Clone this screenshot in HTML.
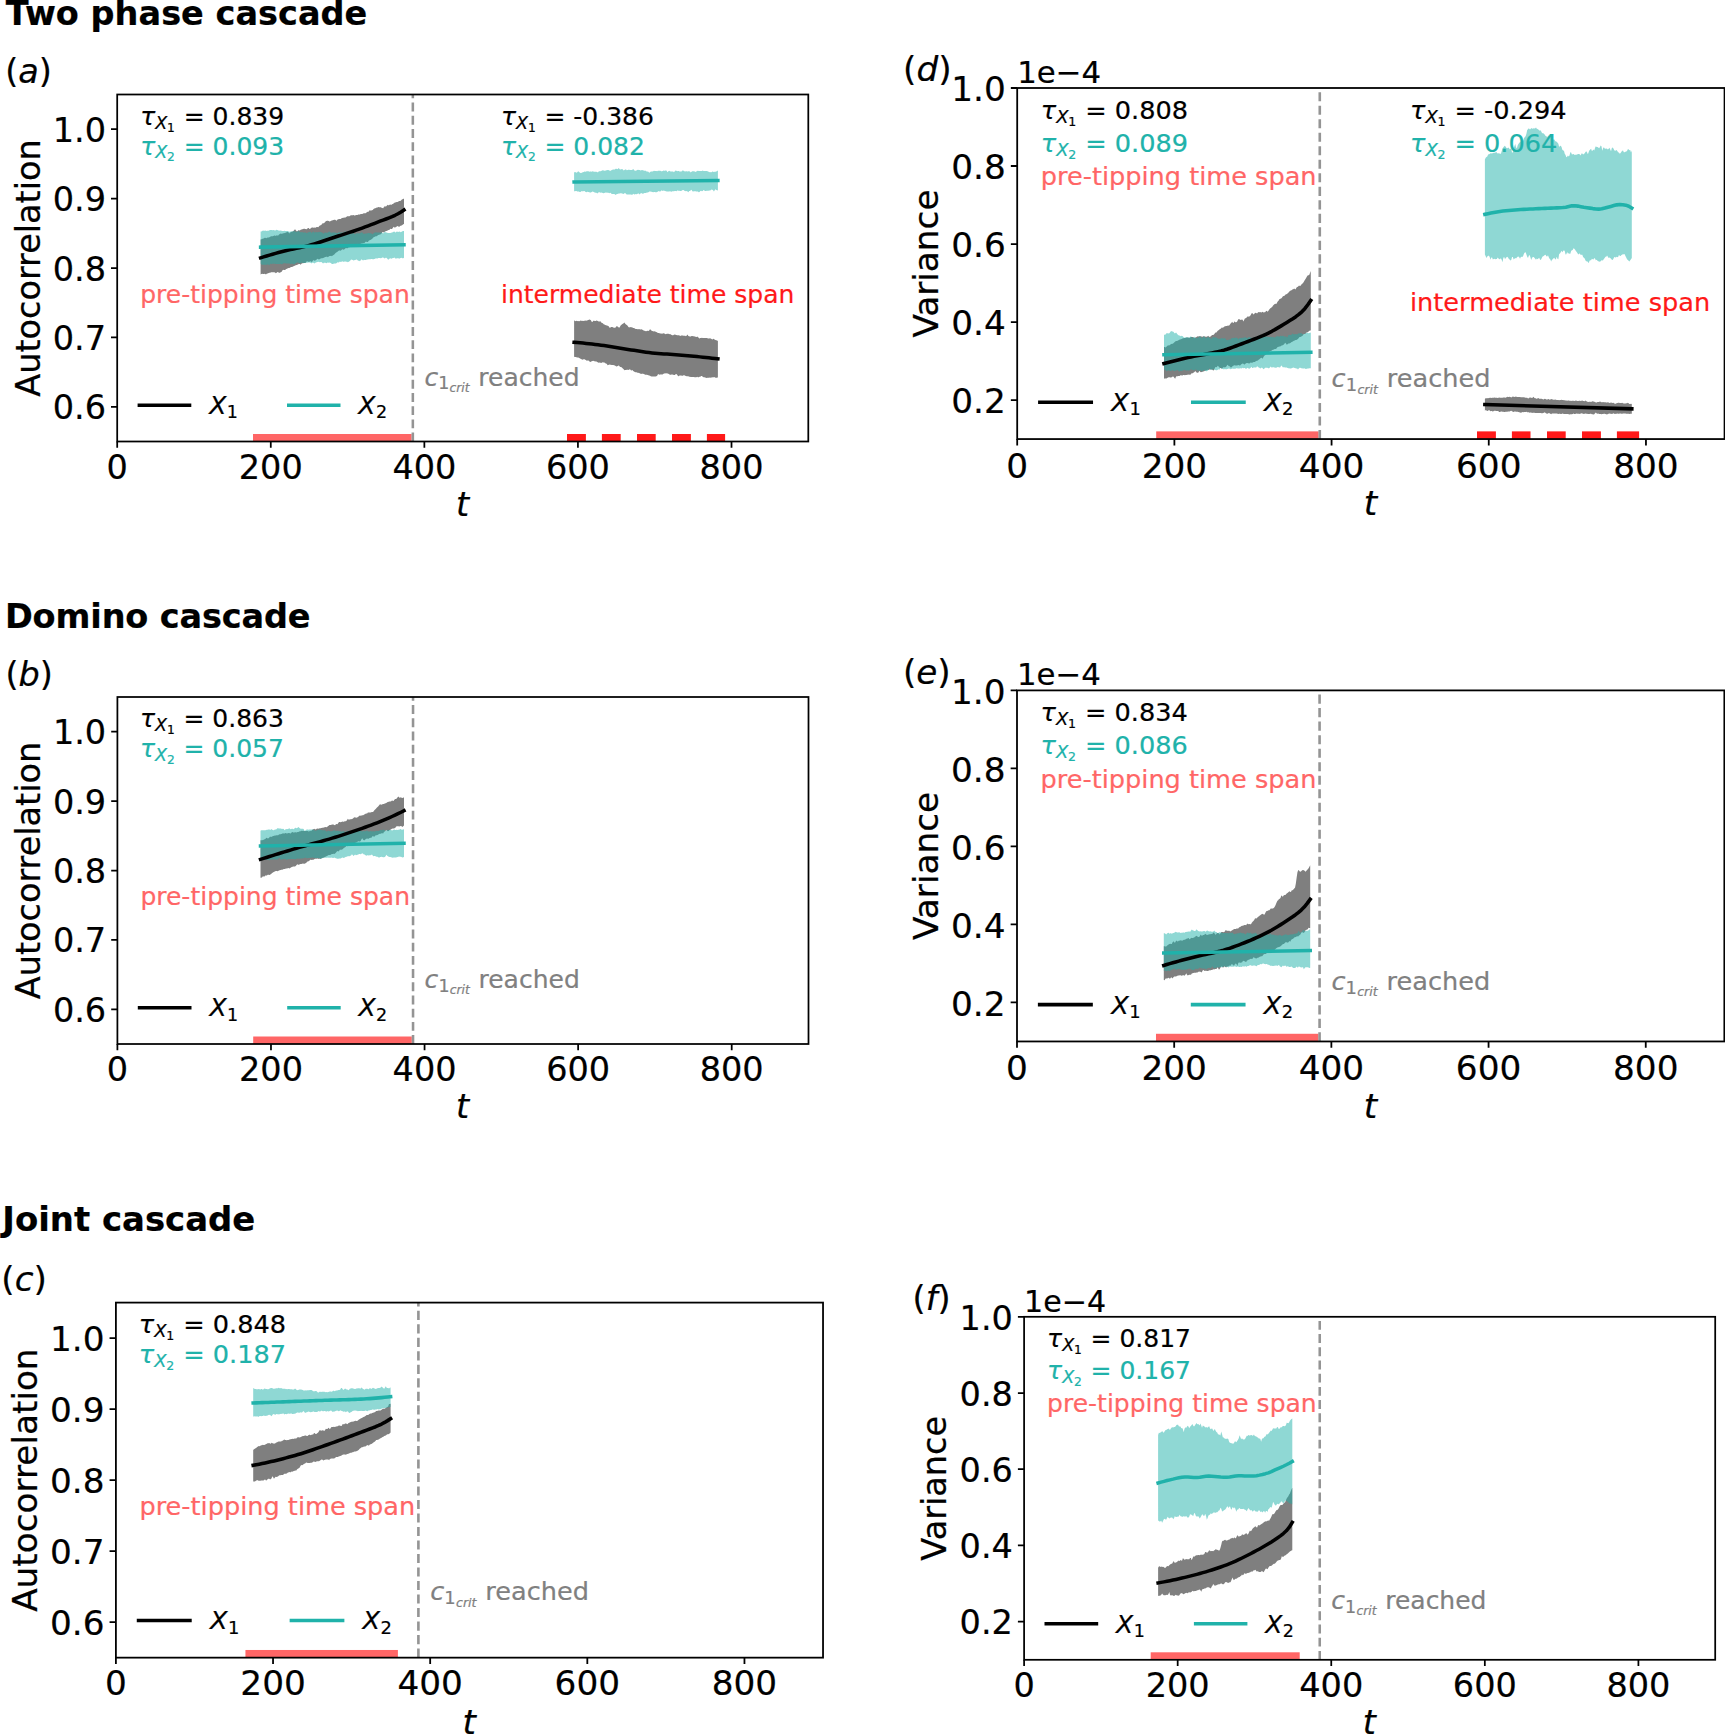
<!DOCTYPE html>
<html lang="en"><head><meta charset="utf-8"><title>Early warning signals for tipping cascades</title>
<style>html,body{margin:0;padding:0;background:#fff}svg{display:block}text{font-family:'DejaVu Sans','Liberation Sans',sans-serif;stroke-width:.22px;white-space:pre}</style></head><body>
<svg width="1725" height="1734" viewBox="0 0 1725 1734">
<rect width="1725" height="1734" fill="#fff"/>
<rect x="253" y="434" width="158.6" height="7.5" fill="#ff6666"/>
<rect x="567" y="434" width="18.9" height="7.5" fill="#ff1919"/>
<rect x="601.9" y="434" width="18.8" height="7.5" fill="#ff1919"/>
<rect x="637" y="434" width="18.7" height="7.5" fill="#ff1919"/>
<rect x="672" y="434" width="18.9" height="7.5" fill="#ff1919"/>
<rect x="706.9" y="434" width="18.2" height="7.5" fill="#ff1919"/>
<line x1="412.84" y1="441.5" x2="412.84" y2="94.5" stroke="#949494" stroke-width="2.55" stroke-dasharray="8.9 4.3"/>
<polygon points="260.6,239.4 261.4,239.27 262.2,238.88 263,238.51 263.8,238.38 264.61,237.68 265.41,237.85 266.21,238.26 267.01,237.7 267.81,237.4 268.61,237.39 269.41,237.17 270.21,236.83 271.01,236.2 271.82,236.22 272.62,236.27 273.42,236 274.22,235.48 275.02,235.61 275.82,235.96 276.62,235.31 277.42,235.62 278.22,235.6 279.03,234.46 279.83,234.1 280.63,233.44 281.43,233.78 282.23,233.87 283.03,233.25 283.83,233.3 284.63,232.98 285.43,232.67 286.24,232.38 287.04,231.72 287.84,232 288.64,232.42 289.44,233.43 290.24,232.4 291.04,231.88 291.84,231.7 292.64,231.39 293.45,231.07 294.25,230.07 295.05,229.32 295.85,230.17 296.65,231.28 297.45,231.13 298.25,230.16 299.05,230.36 299.85,230.48 300.66,229.67 301.46,229.47 302.26,229.28 303.06,229.11 303.86,228.63 304.66,228.85 305.46,229.01 306.26,229.13 307.06,228.98 307.87,228.04 308.67,228.05 309.47,228.94 310.27,228.73 311.07,228.04 311.87,227.61 312.67,227.42 313.47,227.64 314.27,227.42 315.08,227.66 315.88,227.61 316.68,226.95 317.48,227 318.28,227.27 319.08,226.17 319.88,225.51 320.68,225.31 321.48,224.68 322.29,223.5 323.09,223.25 323.89,223.29 324.69,222.58 325.49,221.61 326.29,221.03 327.09,220.87 327.89,220.66 328.69,220.91 329.5,221.58 330.3,221.18 331.1,220.69 331.9,220.61 332.7,220.35 333.5,220.1 334.3,219.81 335.1,219.67 335.91,220.36 336.71,220.73 337.51,219.59 338.31,219.25 339.11,218.93 339.91,218.97 340.71,218.92 341.51,218.26 342.31,217.96 343.12,217.8 343.92,217.64 344.72,217.62 345.52,217.5 346.32,217.04 347.12,216.36 347.92,216.22 348.72,216.32 349.52,216.21 350.33,215.46 351.13,215.19 351.93,215.36 352.73,215.26 353.53,215.08 354.33,215.53 355.13,215.58 355.93,214.88 356.73,214.98 357.54,214.94 358.34,214.59 359.14,214.47 359.94,214.4 360.74,214.05 361.54,214.04 362.34,213.89 363.14,213.47 363.94,213.22 364.75,213.15 365.55,213.16 366.35,212.85 367.15,211.77 367.95,211.93 368.75,211.6 369.55,210.16 370.35,210.53 371.15,210.52 371.96,210.2 372.76,209.89 373.56,209.1 374.36,208.39 375.16,208.23 375.96,208.12 376.76,207.62 377.56,207.44 378.36,207.08 379.17,207.19 379.97,207.17 380.77,207.16 381.57,207.81 382.37,208.1 383.17,208.3 383.97,206.96 384.77,206.33 385.57,206.54 386.38,206.19 387.18,205.17 387.98,204.85 388.78,205.48 389.58,204.76 390.38,204.44 391.18,204.89 391.98,204.29 392.78,203.95 393.59,203.55 394.39,202.7 395.19,202.4 395.99,202.31 396.79,202.04 397.59,201.89 398.39,201.46 399.19,200.98 399.99,201.11 400.8,200.81 401.6,199.78 402.4,199.31 403.2,198.94 404,198.4 404,224 403.2,224.37 402.4,225.11 401.6,225.48 400.8,225.78 399.99,225.99 399.19,227.01 398.39,226.46 397.59,226.07 396.79,226.57 395.99,227.03 395.19,227.59 394.39,227.4 393.59,226.78 392.78,227.94 391.98,228.94 391.18,228.97 390.38,228.84 389.58,229.64 388.78,229.93 387.98,230.34 387.18,230.7 386.38,230.93 385.57,231.36 384.77,231.67 383.97,232.13 383.17,232.23 382.37,231.9 381.57,233.59 380.77,234.29 379.97,234.43 379.17,234.72 378.36,234.92 377.56,235.38 376.76,236.3 375.96,236.37 375.16,236.58 374.36,237.04 373.56,237.14 372.76,238.25 371.96,239.04 371.15,239.49 370.35,239.88 369.55,240.23 368.75,240.83 367.95,242.08 367.15,242 366.35,241.78 365.55,241.85 364.75,242.87 363.94,243.18 363.14,243.11 362.34,243.54 361.54,243.45 360.74,243.74 359.94,244.43 359.14,245.27 358.34,245.12 357.54,244.19 356.73,244.43 355.93,244.86 355.13,245.87 354.33,246.59 353.53,246.82 352.73,246.36 351.93,246.6 351.13,246.88 350.33,246.83 349.52,247.28 348.72,247.13 347.92,247.65 347.12,248.43 346.32,248 345.52,248.16 344.72,249.07 343.92,249.73 343.12,249.38 342.31,249.2 341.51,250.06 340.71,250.7 339.91,250.44 339.11,250.6 338.31,251.04 337.51,251.64 336.71,252.24 335.91,252.76 335.1,253.46 334.3,254.4 333.5,255.04 332.7,255.56 331.9,256.21 331.1,255.84 330.3,255.95 329.5,256.08 328.69,256.41 327.89,257.19 327.09,256.74 326.29,256.76 325.49,257.11 324.69,257.35 323.89,257.81 323.09,258 322.29,258.2 321.48,258.29 320.68,258.47 319.88,259.05 319.08,259.51 318.28,259.26 317.48,258.85 316.68,259.43 315.88,260.18 315.08,260.59 314.27,260.83 313.47,259.89 312.67,261.03 311.87,262.24 311.07,261.55 310.27,261.37 309.47,261.68 308.67,261.73 307.87,261.68 307.06,260.93 306.26,261.92 305.46,262.97 304.66,263.06 303.86,263.02 303.06,263.14 302.26,263.26 301.46,263.79 300.66,264.71 299.85,263.89 299.05,263.93 298.25,264.35 297.45,264.76 296.65,265.12 295.85,265.17 295.05,265.5 294.25,266.09 293.45,266.25 292.64,266.67 291.84,266.89 291.04,267.01 290.24,267.42 289.44,267.94 288.64,268.1 287.84,268.36 287.04,268.87 286.24,269.07 285.43,269.87 284.63,270.04 283.83,270.02 283.03,269.7 282.23,270.73 281.43,271.89 280.63,272.17 279.83,272.63 279.03,272.84 278.22,272.36 277.42,272.05 276.62,272.78 275.82,273.27 275.02,272.45 274.22,272.23 273.42,272.14 272.62,272.29 271.82,272.3 271.01,272.17 270.21,272.87 269.41,272.79 268.61,273.07 267.81,273.43 267.01,273.58 266.21,274.32 265.41,274.15 264.61,273.78 263.8,274.09 263,273.96 262.2,273.69 261.4,274.12 260.6,274.5" fill="#000" fill-opacity="0.5"/>
<polygon points="260.6,231.58 261.4,231.59 262.2,231.08 263,230.5 263.8,230.72 264.61,230.83 265.41,230.56 266.21,230.89 267.01,230.85 267.81,230.85 268.61,230.77 269.41,230.24 270.21,229.94 271.01,229.9 271.82,230.09 272.62,230.23 273.42,230.11 274.22,230.26 275.02,230.43 275.82,230.21 276.62,229.68 277.42,230.08 278.22,230.53 279.03,230.57 279.83,230.63 280.63,230.5 281.43,230.68 282.23,230.98 283.03,231 283.83,230.96 284.63,230.87 285.43,230.94 286.24,231.04 287.04,230.9 287.84,231.06 288.64,231.58 289.44,231.73 290.24,231.54 291.04,231.46 291.84,231.22 292.64,231.53 293.45,231.24 294.25,230.73 295.05,231.46 295.85,231.68 296.65,231.81 297.45,231.5 298.25,231.01 299.05,231.24 299.85,231.97 300.66,232.23 301.46,232.33 302.26,232.27 303.06,232.36 303.86,232.76 304.66,232.62 305.46,232.37 306.26,233 307.06,233.13 307.87,232.34 308.67,232.24 309.47,232.1 310.27,231.87 311.07,232.34 311.87,233.25 312.67,231.87 313.47,231.62 314.27,232.75 315.08,232.18 315.88,231.81 316.68,232.38 317.48,232.16 318.28,232.03 319.08,232.2 319.88,231.67 320.68,231.95 321.48,232.46 322.29,232.61 323.09,233.6 323.89,233.46 324.69,232.51 325.49,232.49 326.29,232.63 327.09,232.86 327.89,232.57 328.69,231.78 329.5,231.48 330.3,232.36 331.1,232.85 331.9,232.66 332.7,232.45 333.5,232.49 334.3,232.45 335.1,232.56 335.91,232.69 336.71,233 337.51,233.24 338.31,232.61 339.11,232.22 339.91,232.57 340.71,232.81 341.51,232.39 342.31,232.39 343.12,232.89 343.92,232.2 344.72,231.62 345.52,231.44 346.32,232.08 347.12,232.52 347.92,232.43 348.72,232.44 349.52,232.95 350.33,233.19 351.13,233.14 351.93,233.51 352.73,233.49 353.53,232.78 354.33,233.9 355.13,234.3 355.93,233.39 356.73,233.21 357.54,233.23 358.34,233.37 359.14,233.52 359.94,233.3 360.74,232.93 361.54,232.36 362.34,232.6 363.14,233.49 363.94,234 364.75,233.44 365.55,233.49 366.35,233.51 367.15,233.41 367.95,233.12 368.75,232.95 369.55,233.28 370.35,233.23 371.15,233.28 371.96,234.05 372.76,234.3 373.56,233.23 374.36,232.7 375.16,232.48 375.96,232.27 376.76,232.4 377.56,232.57 378.36,232.54 379.17,232.48 379.97,232.5 380.77,232.52 381.57,232.4 382.37,232.81 383.17,233.6 383.97,232.61 384.77,232.05 385.57,232.14 386.38,232.39 387.18,232.74 387.98,233.12 388.78,233 389.58,233.01 390.38,233.01 391.18,232.82 391.98,232.53 392.78,232.26 393.59,231.63 394.39,231.57 395.19,232.51 395.99,232.26 396.79,231.6 397.59,231.85 398.39,231.97 399.19,231.6 399.99,231.81 400.8,232.15 401.6,231.68 402.4,231.19 403.2,231.02 404,231.08 404,257.63 403.2,258.3 402.4,258.17 401.6,257.76 400.8,257.98 399.99,258.36 399.19,258.78 398.39,258.36 397.59,258.19 396.79,258.27 395.99,258.64 395.19,258.2 394.39,257.59 393.59,257.96 392.78,258.05 391.98,258.49 391.18,258.72 390.38,258.2 389.58,258.51 388.78,259.42 387.98,259.44 387.18,258.53 386.38,257.66 385.57,257.7 384.77,258.41 383.97,258.11 383.17,257.54 382.37,257.58 381.57,257.92 380.77,258.34 379.97,258.05 379.17,258.06 378.36,258 377.56,258.4 376.76,258.57 375.96,258.35 375.16,258.71 374.36,259.01 373.56,259.28 372.76,259.16 371.96,259.03 371.15,258.91 370.35,259.14 369.55,259.33 368.75,259.33 367.95,259.46 367.15,259.42 366.35,259.7 365.55,260.06 364.75,259.94 363.94,259.66 363.14,260.54 362.34,260.12 361.54,259.14 360.74,260.17 359.94,261.18 359.14,260.74 358.34,260.74 357.54,260.36 356.73,259.35 355.93,259.92 355.13,259.72 354.33,260.18 353.53,260.46 352.73,260.11 351.93,259.81 351.13,259.59 350.33,260.62 349.52,261.26 348.72,261.64 347.92,262.13 347.12,261.83 346.32,261.86 345.52,261.54 344.72,261.55 343.92,261.84 343.12,261.66 342.31,261.16 341.51,261.65 340.71,262.03 339.91,261.51 339.11,262.14 338.31,262.59 337.51,262.21 336.71,262.94 335.91,263.59 335.1,263.39 334.3,263.48 333.5,263.64 332.7,264.01 331.9,264.12 331.1,263.14 330.3,262.69 329.5,262.62 328.69,262.86 327.89,262.62 327.09,262.63 326.29,263.13 325.49,262.87 324.69,262.74 323.89,262.8 323.09,263.55 322.29,262.78 321.48,262.05 320.68,261.9 319.88,262.21 319.08,262.07 318.28,261.77 317.48,262.06 316.68,262.24 315.88,262.62 315.08,263.1 314.27,263.4 313.47,262.7 312.67,262.53 311.87,263.34 311.07,263.14 310.27,262.44 309.47,262.5 308.67,262.5 307.87,262.46 307.06,262.83 306.26,262.87 305.46,262.85 304.66,262.91 303.86,262.94 303.06,262.96 302.26,262.71 301.46,262.4 300.66,262.9 299.85,263.18 299.05,262.91 298.25,262.67 297.45,262.17 296.65,262.78 295.85,263.21 295.05,263.55 294.25,264.4 293.45,264.07 292.64,263.79 291.84,263.66 291.04,263.79 290.24,264.07 289.44,263.62 288.64,263.49 287.84,263.5 287.04,263.45 286.24,263.43 285.43,263.31 284.63,263.33 283.83,263.3 283.03,263.44 282.23,264.32 281.43,264.29 280.63,263.78 279.83,263.96 279.03,263.9 278.22,264.03 277.42,264.08 276.62,264.01 275.82,264.09 275.02,263.76 274.22,263.86 273.42,263.7 272.62,263.5 271.82,264.22 271.01,263.7 270.21,263.68 269.41,265.23 268.61,265.09 267.81,264.36 267.01,264.46 266.21,265.28 265.41,264.61 264.61,264.66 263.8,264.76 263,264.69 262.2,264.84 261.4,264.46 260.6,263.53" fill="#20b2aa" fill-opacity="0.5"/>
<polyline points="260.6,257.9 263.59,256.93 266.58,255.99 269.56,255.09 272.55,254.22 275.54,253.37 278.53,252.56 281.51,251.77 284.5,251.02 287.49,250.29 290.48,249.6 293.46,248.98 296.45,248.4 299.44,247.8 302.43,247.14 305.41,246.4 308.4,245.59 311.39,244.74 314.38,243.85 317.36,242.94 320.35,242.01 323.34,241.03 326.32,240.01 329.31,238.98 332.3,237.97 335.29,236.99 338.27,236.03 341.26,235.08 344.25,234.13 347.24,233.18 350.23,232.21 353.21,231.22 356.2,230.2 359.19,229.14 362.18,228.05 365.16,226.95 368.15,225.82 371.14,224.68 374.12,223.53 377.11,222.37 380.1,221.21 383.09,220.1 386.07,218.99 389.06,217.85 392.05,216.64 395.04,215.31 398.02,213.79 401.01,211.98 404,210" fill="none" stroke="#000" stroke-width="3.5" stroke-linecap="square" stroke-linejoin="round"/>
<polyline points="260.6,247.1 404,244.8" fill="none" stroke="#20b2aa" stroke-width="3.5" stroke-linecap="square" stroke-linejoin="round"/>
<polygon points="574.1,320.44 574.9,320.81 575.7,321.33 576.5,320.8 577.3,321.04 578.09,321.35 578.89,321.11 579.69,321.24 580.49,320.61 581.29,320.7 582.09,320.99 582.89,320.73 583.69,320.91 584.49,320.65 585.28,320.51 586.08,320.64 586.88,320.47 587.68,320.36 588.48,320.08 589.28,319.5 590.08,319.7 590.88,320.24 591.68,321.83 592.47,321.9 593.27,320.69 594.07,320.72 594.87,320.88 595.67,321.04 596.47,320.54 597.27,320.63 598.07,321.17 598.87,321.51 599.66,321.62 600.46,321.2 601.26,322.6 602.06,322.98 602.86,323.35 603.66,324.16 604.46,324.57 605.26,324.97 606.06,325.28 606.85,325.6 607.65,325.8 608.45,326.04 609.25,327.15 610.05,327.89 610.85,327.11 611.65,327.08 612.45,327.12 613.25,327.41 614.04,327.69 614.84,327.71 615.64,327.49 616.44,326.36 617.24,326.31 618.04,326.91 618.84,327.55 619.64,327.42 620.44,325.83 621.23,324.92 622.03,324.3 622.83,323.74 623.63,323.19 624.43,322.49 625.23,323.63 626.03,324.57 626.83,325.11 627.63,325.75 628.42,326.98 629.22,327.4 630.02,326.99 630.82,327.25 631.62,327.35 632.42,327.62 633.22,328.05 634.02,327.99 634.82,328.44 635.61,329.11 636.41,329.02 637.21,329.03 638.01,329.4 638.81,329.12 639.61,329.37 640.41,329.58 641.21,329.2 642.01,329.45 642.8,329.95 643.6,330.47 644.4,330.68 645.2,330.97 646,331.36 646.8,330.99 647.6,330.72 648.4,330.88 649.2,330.45 649.99,329.33 650.79,329.84 651.59,330.78 652.39,331.1 653.19,331.27 653.99,331.59 654.79,331.36 655.59,331.66 656.39,332.07 657.18,332.61 657.98,333.02 658.78,333 659.58,333.16 660.38,333.4 661.18,333.52 661.98,333.65 662.78,333.61 663.58,333.21 664.37,333.46 665.17,333.95 665.97,334.16 666.77,333.69 667.57,333.74 668.37,333.87 669.17,334.03 669.97,334.2 670.77,334.33 671.56,335.02 672.36,335.35 673.16,335.21 673.96,334.8 674.76,334.47 675.56,334.75 676.36,335.04 677.16,335.13 677.96,335.29 678.75,335.29 679.55,335.42 680.35,335.95 681.15,335.43 681.95,335.44 682.75,335.6 683.55,335.75 684.35,335.79 685.15,335.85 685.94,336.14 686.74,335.61 687.54,334.6 688.34,335.9 689.14,336.29 689.94,336.4 690.74,336.46 691.54,336.02 692.34,336.03 693.13,336.16 693.93,336.15 694.73,336.41 695.53,336.8 696.33,336.98 697.13,336.86 697.93,336.85 698.73,338.12 699.53,338.52 700.32,338 701.12,337.91 701.92,337.87 702.72,337.94 703.52,338.01 704.32,338.05 705.12,337.98 705.92,337.94 706.72,337.96 707.51,338.36 708.31,338.5 709.11,338.43 709.91,338.13 710.71,338.4 711.51,339 712.31,339.38 713.11,338.97 713.91,338.74 714.7,339.72 715.5,340.01 716.3,340.26 717.1,340.61 717.9,341.12 717.9,377.35 717.1,377.72 716.3,377.66 715.5,377.64 714.7,377.29 713.91,377.1 713.11,377.53 712.31,377.32 711.51,377.62 710.71,377.73 709.91,377.51 709.11,377.69 708.31,377.68 707.51,377.8 706.72,378.03 705.92,377.87 705.12,377.48 704.32,377.28 703.52,377.13 702.72,376.82 701.92,375.97 701.12,375.89 700.32,376.63 699.53,376.7 698.73,377.33 697.93,377.22 697.13,376.79 696.33,377.23 695.53,377.35 694.73,377.14 693.93,377.1 693.13,377.02 692.34,376.9 691.54,377.07 690.74,377.08 689.94,376.69 689.14,376.68 688.34,376.3 687.54,376.13 686.74,376.29 685.94,376.05 685.15,375.81 684.35,375.33 683.55,375.33 682.75,375.67 681.95,375.65 681.15,375.62 680.35,375.44 679.55,375.4 678.75,376.24 677.96,376 677.16,374.84 676.36,374.09 675.56,374.31 674.76,375 673.96,375.1 673.16,374.87 672.36,374.42 671.56,374.44 670.77,374.81 669.97,374.7 669.17,374.35 668.37,373.67 667.57,373.42 666.77,373.36 665.97,373.41 665.17,373.26 664.37,373.46 663.58,373.66 662.78,374.37 661.98,374.83 661.18,374.37 660.38,374.42 659.58,374.69 658.78,374.18 657.98,374.37 657.18,375.73 656.39,376.17 655.59,376.4 654.79,376.55 653.99,376.41 653.19,376.46 652.39,376.42 651.59,376.55 650.79,376.18 649.99,375.63 649.2,375.6 648.4,375.28 647.6,375.06 646.8,374.73 646,374.78 645.2,374.72 644.4,374.26 643.6,373.92 642.8,373.41 642.01,373.88 641.21,373.79 640.41,373.72 639.61,373.28 638.81,372.8 638.01,372.98 637.21,372.62 636.41,372.26 635.61,372.16 634.82,371.9 634.02,371.54 633.22,370.93 632.42,370 631.62,370.51 630.82,370.24 630.02,369.23 629.22,369.6 628.42,369.93 627.63,369.72 626.83,369.74 626.03,369.92 625.23,370.1 624.43,370.18 623.63,369.14 622.83,368.48 622.03,367.8 621.23,366.9 620.44,366.95 619.64,366.41 618.84,365.58 618.04,365.81 617.24,366.16 616.44,366.48 615.64,366.04 614.84,365.44 614.04,365.26 613.25,365.12 612.45,365.03 611.65,365.02 610.85,364.83 610.05,364.64 609.25,364.57 608.45,364.96 607.65,365.13 606.85,364.05 606.06,363.55 605.26,363.17 604.46,362.49 603.66,362.54 602.86,362.3 602.06,362.57 601.26,363.05 600.46,362.68 599.66,362.59 598.87,362.67 598.07,362.46 597.27,361.98 596.47,361.55 595.67,361.57 594.87,361.3 594.07,361.19 593.27,360.86 592.47,361 591.68,361.27 590.88,361.8 590.08,362.07 589.28,361.27 588.48,360.59 587.68,360.45 586.88,360.78 586.08,360.15 585.28,359.69 584.49,359.25 583.69,359.24 582.89,359.4 582.09,359.63 581.29,358.94 580.49,358.63 579.69,358.31 578.89,357.86 578.09,357.54 577.3,357.5 576.5,357.25 575.7,357.08 574.9,357.08 574.1,356.85" fill="#000" fill-opacity="0.5"/>
<polygon points="574.1,172.42 574.9,172 575.7,172.37 576.5,172.85 577.3,172.23 578.09,171.29 578.89,171.86 579.69,172.6 580.49,172.96 581.29,173.12 582.09,172.5 582.89,172.24 583.69,171.89 584.49,171.55 585.28,171.87 586.08,171.47 586.88,171.16 587.68,171.16 588.48,171.19 589.28,171.67 590.08,171.41 590.88,171.53 591.68,171.66 592.47,171.32 593.27,171.61 594.07,171.83 594.87,171.86 595.67,171.82 596.47,171.79 597.27,172.25 598.07,172.29 598.87,171.32 599.66,171.23 600.46,171.32 601.26,171.03 602.06,170.6 602.86,170.28 603.66,170.57 604.46,170.77 605.26,170.74 606.06,170.33 606.85,170.21 607.65,170.04 608.45,169.97 609.25,170.47 610.05,170.85 610.85,170.79 611.65,170.11 612.45,169.75 613.25,169.51 614.04,169.45 614.84,169.39 615.64,168.86 616.44,168.84 617.24,169.28 618.04,168.85 618.84,168.08 619.64,169.3 620.44,169.59 621.23,169.34 622.03,169 622.83,169.44 623.63,170.41 624.43,170.09 625.23,169.6 626.03,169.62 626.83,170.21 627.63,169.91 628.42,169.7 629.22,169.71 630.02,169.88 630.82,170 631.62,169.94 632.42,169.63 633.22,169.04 634.02,169.93 634.82,170.82 635.61,170.73 636.41,170.61 637.21,170.04 638.01,169.77 638.81,169.94 639.61,170.03 640.41,170.53 641.21,170.3 642.01,169.88 642.8,170.31 643.6,170.41 644.4,170.74 645.2,170.65 646,170.86 646.8,171.73 647.6,171.51 648.4,171.76 649.2,172.82 649.99,172.18 650.79,171.49 651.59,171.5 652.39,171.39 653.19,171.15 653.99,170.87 654.79,171.03 655.59,170.99 656.39,170.99 657.18,171.35 657.98,170.86 658.78,170.76 659.58,170.87 660.38,170.85 661.18,171.18 661.98,171.3 662.78,171.07 663.58,170.61 664.37,170.66 665.17,170.72 665.97,170.34 666.77,171.06 667.57,172.13 668.37,171.34 669.17,170.81 669.97,171.23 670.77,171.5 671.56,171.58 672.36,171.42 673.16,171.46 673.96,172.27 674.76,171.23 675.56,170.56 676.36,170.81 677.16,171.15 677.96,171.02 678.75,170.97 679.55,171.5 680.35,171.43 681.15,171.6 681.95,171.34 682.75,170.37 683.55,170.83 684.35,171.34 685.15,171.43 685.94,171.18 686.74,171.37 687.54,171.41 688.34,171.23 689.14,171.28 689.94,171.42 690.74,172.5 691.54,171.78 692.34,171.16 693.13,171.27 693.93,171.21 694.73,171.56 695.53,171.92 696.33,171.46 697.13,171.02 697.93,170.72 698.73,170.9 699.53,170.99 700.32,170.89 701.12,171.02 701.92,170.94 702.72,170.52 703.52,170.95 704.32,171.07 705.12,171.05 705.92,170.95 706.72,171.05 707.51,171.2 708.31,171.5 709.11,172.2 709.91,171.92 710.71,172.25 711.51,172.18 712.31,171.51 713.11,171.71 713.91,172.03 714.7,171.85 715.5,171.7 716.3,171.55 717.1,171.12 717.9,170.44 717.9,190.41 717.1,190.32 716.3,189.94 715.5,189.25 714.7,190.24 713.91,191.53 713.11,190.29 712.31,189.71 711.51,189.52 710.71,190.33 709.91,190.48 709.11,190.61 708.31,190.79 707.51,190.72 706.72,190.72 705.92,190.9 705.12,190.88 704.32,190.42 703.52,190.09 702.72,190.96 701.92,191.29 701.12,190.87 700.32,191.06 699.53,192.11 698.73,192.24 697.93,191.6 697.13,191.45 696.33,191.61 695.53,191.37 694.73,191.16 693.93,191.27 693.13,191.38 692.34,191.32 691.54,189.73 690.74,190.22 689.94,191.04 689.14,191.1 688.34,192.16 687.54,191.61 686.74,191.05 685.94,191.13 685.15,190.94 684.35,190.78 683.55,189.9 682.75,190.01 681.95,190.6 681.15,191.03 680.35,191.01 679.55,190.83 678.75,190.93 677.96,190.26 677.16,190.73 676.36,191.23 675.56,191.03 674.76,190.95 673.96,191.32 673.16,191.26 672.36,191.36 671.56,191.82 670.77,191.58 669.97,191.29 669.17,191.54 668.37,191.46 667.57,191.41 666.77,191.51 665.97,191.19 665.17,191.1 664.37,190.82 663.58,190.56 662.78,190.88 661.98,190.43 661.18,190.59 660.38,191.53 659.58,191.58 658.78,190.92 657.98,191.51 657.18,191.88 656.39,192.14 655.59,192.28 654.79,192.01 653.99,192.12 653.19,192.28 652.39,192.11 651.59,191.85 650.79,191.78 649.99,191.36 649.2,191.86 648.4,192.25 647.6,192.39 646.8,192.53 646,192.95 645.2,193.09 644.4,192.92 643.6,193.44 642.8,193.8 642.01,193.55 641.21,193.01 640.41,193.57 639.61,194.38 638.81,193.62 638.01,193.61 637.21,193.91 636.41,194.18 635.61,194.12 634.82,194.46 634.02,194.16 633.22,193.86 632.42,194.67 631.62,194.69 630.82,194.44 630.02,194.56 629.22,194.51 628.42,194.41 627.63,194.53 626.83,194.39 626.03,193.95 625.23,193.01 624.43,193.13 623.63,193.93 622.83,193.8 622.03,193.61 621.23,193.34 620.44,193.29 619.64,193.58 618.84,193.38 618.04,193.66 617.24,194 616.44,194.14 615.64,194.89 614.84,194.29 614.04,194.02 613.25,193.93 612.45,193.94 611.65,194.11 610.85,192.91 610.05,192.87 609.25,193.16 608.45,192.85 607.65,192.66 606.85,192.61 606.06,192.63 605.26,192.62 604.46,193.04 603.66,193.22 602.86,193.05 602.06,192.74 601.26,192.56 600.46,192.63 599.66,192.26 598.87,192.15 598.07,192.71 597.27,193.44 596.47,192.83 595.67,192.69 594.87,192.56 594.07,192.14 593.27,191.66 592.47,191.56 591.68,192.05 590.88,192.5 590.08,192.57 589.28,192.24 588.48,192.04 587.68,191.73 586.88,192.02 586.08,192.26 585.28,191.77 584.49,190.88 583.69,190.88 582.89,191.42 582.09,190.97 581.29,191.31 580.49,192.02 579.69,191.99 578.89,191.52 578.09,191.56 577.3,191.42 576.5,191.1 575.7,190.96 574.9,191.2 574.1,191.27" fill="#20b2aa" fill-opacity="0.5"/>
<polyline points="574.1,342.3 577.1,342.55 580.09,342.82 583.09,343.1 586.08,343.4 589.08,343.72 592.08,344.05 595.07,344.4 598.07,344.76 601.06,345.14 604.06,345.54 607.05,345.99 610.05,346.46 613.05,346.95 616.04,347.45 619.04,347.96 622.03,348.47 625.03,348.97 628.02,349.45 631.02,349.9 634.02,350.35 637.01,350.81 640.01,351.27 643,351.72 646,352.15 649,352.54 651.99,352.89 654.99,353.19 657.98,353.45 660.98,353.68 663.98,353.89 666.97,354.09 669.97,354.28 672.96,354.48 675.96,354.68 678.95,354.91 681.95,355.17 684.95,355.43 687.94,355.7 690.94,355.98 693.93,356.27 696.93,356.57 699.92,356.88 702.92,357.2 705.92,357.52 708.91,357.85 711.91,358.19 714.9,358.54 717.9,358.9" fill="none" stroke="#000" stroke-width="3.5" stroke-linecap="square" stroke-linejoin="round"/>
<polyline points="574.1,182.1 717.9,180.4" fill="none" stroke="#20b2aa" stroke-width="3.5" stroke-linecap="square" stroke-linejoin="round"/>
<rect x="117.2" y="94.5" width="691.1" height="347" fill="none" stroke="#000" stroke-width="1.75"/>
<path d="M117.2 441.5v6.2M270.78 441.5v6.2M424.36 441.5v6.2M577.93 441.5v6.2M731.51 441.5v6.2M117.2 406.8h-6.2M117.2 337.4h-6.2M117.2 268h-6.2M117.2 198.6h-6.2M117.2 129.2h-6.2" stroke="#000" stroke-width="1.75" fill="none"/>
<g font-size="33.5" stroke="#000">
<text x="117.2" y="478.5" text-anchor="middle">0</text>
<text x="270.78" y="478.5" text-anchor="middle">200</text>
<text x="424.36" y="478.5" text-anchor="middle">400</text>
<text x="577.93" y="478.5" text-anchor="middle">600</text>
<text x="731.51" y="478.5" text-anchor="middle">800</text>
<text x="106" y="419.3" text-anchor="end">0.6</text>
<text x="106" y="349.9" text-anchor="end">0.7</text>
<text x="106" y="280.5" text-anchor="end">0.8</text>
<text x="106" y="211.1" text-anchor="end">0.9</text>
<text x="106" y="141.7" text-anchor="end">1.0</text>
</g>
<text x="462.45" y="515.8" font-size="33.5" text-anchor="middle" font-style="italic" stroke="#000">t</text>
<text x="40" y="268" font-size="33.5" text-anchor="middle" transform="rotate(-90 40 268)" stroke="#000">Autocorrelation</text>
<text x="5.2" y="83.1" font-size="33.5" stroke="#000">(<tspan font-style="italic">a</tspan>)</text>
<text x="5.7" y="25" font-size="33.5" font-weight="bold" stroke="#000" textLength="361.6">Two phase cascade</text>
<text stroke="#000"><tspan x="140.2" y="124.7" font-size="25" font-style="italic">τ</tspan><tspan x="155.25" y="128.6" font-size="17.5" font-style="italic">X</tspan><tspan x="167.1" y="131.5" font-size="12.25">1</tspan><tspan x="175.7" y="124.7" font-size="25"> = 0.839</tspan></text>
<text fill="#20b2aa" stroke="#20b2aa"><tspan x="140.2" y="154.5" font-size="25" font-style="italic">τ</tspan><tspan x="155.25" y="158.4" font-size="17.5" font-style="italic">X</tspan><tspan x="167.1" y="161.3" font-size="12.25">2</tspan><tspan x="175.7" y="154.5" font-size="25"> = 0.093</tspan></text>
<text x="140.2" y="302.5" font-size="25" fill="#ff6666" stroke="#ff6666">pre-tipping time span</text>
<text stroke="#000"><tspan x="501" y="124.7" font-size="25" font-style="italic">τ</tspan><tspan x="516.05" y="128.6" font-size="17.5" font-style="italic">X</tspan><tspan x="527.9" y="131.5" font-size="12.25">1</tspan><tspan x="536.5" y="124.7" font-size="25"> = -0.386</tspan></text>
<text fill="#20b2aa" stroke="#20b2aa"><tspan x="501" y="154.5" font-size="25" font-style="italic">τ</tspan><tspan x="516.05" y="158.4" font-size="17.5" font-style="italic">X</tspan><tspan x="527.9" y="161.3" font-size="12.25">2</tspan><tspan x="536.5" y="154.5" font-size="25"> = 0.082</tspan></text>
<text x="501" y="302.5" font-size="25" fill="#ff1919" stroke="#ff1919">intermediate time span</text>
<text fill="#808080" stroke="#808080"><tspan x="424.4" y="385.6" font-size="25" font-style="italic">c</tspan><tspan x="438.2" y="389.4" font-size="17.5">1</tspan><tspan x="449.6" y="391.8" font-size="12.25" font-style="italic">crit</tspan><tspan x="470.35" y="385.6" font-size="25"> reached</tspan></text>
<line x1="137.6" y1="405.2" x2="191.3" y2="405.2" stroke="#000" stroke-width="3.5"/>
<text stroke="#000"><tspan x="209.2" y="413.9" font-size="25" font-style="italic">X</tspan><tspan x="226.8" y="418" font-size="17.5">1</tspan></text>
<line x1="287" y1="405.2" x2="340.5" y2="405.2" stroke="#20b2aa" stroke-width="3.5"/>
<text stroke="#000"><tspan x="358.3" y="413.9" font-size="25" font-style="italic">X</tspan><tspan x="375.9" y="418" font-size="17.5">2</tspan></text>
<rect x="253.2" y="1036.5" width="158.6" height="7.5" fill="#ff6666"/>
<line x1="413.04" y1="1044" x2="413.04" y2="697" stroke="#949494" stroke-width="2.55" stroke-dasharray="8.9 4.3"/>
<polygon points="260.5,840.3 261.3,840.23 262.1,840.16 262.91,839.95 263.71,839.65 264.51,839.21 265.31,838.97 266.11,838.04 266.91,837.84 267.72,838.5 268.52,838.31 269.32,837.54 270.12,836.54 270.92,836.94 271.72,836.76 272.53,836.2 273.33,836.01 274.13,835.68 274.93,835.39 275.73,835.6 276.53,835.25 277.34,835.18 278.14,835.27 278.94,834.46 279.74,834.28 280.54,834.14 281.34,834.01 282.15,833.74 282.95,833.28 283.75,833.41 284.55,833.53 285.35,833.03 286.15,833.23 286.96,833.53 287.76,833.23 288.56,833.07 289.36,833.05 290.16,833.54 290.96,833.15 291.77,832.29 292.57,832.02 293.37,832.41 294.17,832.4 294.97,832.18 295.77,832.28 296.58,832.48 297.38,832.1 298.18,831.89 298.98,831.68 299.78,831.28 300.58,831.18 301.39,830.76 302.19,830.83 302.99,830.95 303.79,830.8 304.59,830.88 305.39,831.04 306.2,831.03 307,830.95 307.8,831.04 308.6,831.48 309.4,831.33 310.2,830.7 311.01,830.95 311.81,830.48 312.61,829.62 313.41,829.37 314.21,828.75 315.01,829.33 315.82,829.41 316.62,828.78 317.42,828.49 318.22,828.73 319.02,828.62 319.82,828.17 320.63,828.25 321.43,828.1 322.23,827.7 323.03,827.83 323.83,827.56 324.63,827.32 325.44,827.08 326.24,827.36 327.04,827.12 327.84,826.28 328.64,825.87 329.44,824.96 330.25,824.95 331.05,824.91 331.85,824.61 332.65,824.49 333.45,824.48 334.25,824.93 335.06,825.28 335.86,824.23 336.66,823.88 337.46,824.22 338.26,822.93 339.06,822.12 339.87,821.98 340.67,822.24 341.47,822.08 342.27,821.57 343.07,821.78 343.87,821.74 344.68,821.36 345.48,821.26 346.28,821.04 347.08,819.89 347.88,818.82 348.68,819.84 349.49,819.48 350.29,819.35 351.09,819.29 351.89,818.9 352.69,818.67 353.49,817.91 354.3,817.26 355.1,817.38 355.9,817.5 356.7,817.78 357.5,817.36 358.3,816.83 359.11,815.95 359.91,815.43 360.71,815.74 361.51,815.44 362.31,815.25 363.11,815.29 363.92,814.81 364.72,814.35 365.52,813.69 366.32,813.47 367.12,813.5 367.92,812.62 368.73,812.46 369.53,812.55 370.33,812.41 371.13,812.35 371.93,811.9 372.73,811.92 373.54,811.41 374.34,810.21 375.14,809.44 375.94,808.7 376.74,807.67 377.54,806.96 378.35,806.31 379.15,805.34 379.95,804.29 380.75,804.49 381.55,804.79 382.35,804.32 383.16,803.9 383.96,804.01 384.76,803.55 385.56,803.33 386.36,802.99 387.16,802.26 387.97,802.02 388.77,801.81 389.57,801.47 390.37,801.59 391.17,801.14 391.97,800.49 392.78,800.85 393.58,800.96 394.38,799.76 395.18,798.91 395.98,798.94 396.78,798.49 397.59,797.14 398.39,796.47 399.19,797.6 399.99,797.65 400.79,797.21 401.59,797.63 402.4,797.91 403.2,797.67 404,797.27 404,825.62 403.2,826.28 402.4,827 401.59,826.29 400.79,826.09 399.99,826.35 399.19,826.38 398.39,826.31 397.59,826.35 396.78,826.25 395.98,826.81 395.18,827.97 394.38,828.14 393.58,828.46 392.78,828.51 391.97,828.73 391.17,829.34 390.37,829.77 389.57,829.99 388.77,831.07 387.97,831.32 387.16,830.87 386.36,830.16 385.56,830.68 384.76,831.55 383.96,832.06 383.16,833.42 382.35,833.23 381.55,833.13 380.75,833.71 379.95,833.87 379.15,833.92 378.35,834.4 377.54,835.11 376.74,835.36 375.94,835.29 375.14,835.85 374.34,836.73 373.54,836.61 372.73,836.08 371.93,836.95 371.13,837.95 370.33,837.8 369.53,837.97 368.73,838.84 367.92,838.81 367.12,838.6 366.32,838.86 365.52,839.35 364.72,840.33 363.92,840.24 363.11,839.75 362.31,838.14 361.51,839.33 360.71,841.1 359.91,841.55 359.11,841.55 358.3,841.29 357.5,841.8 356.7,842.33 355.9,842.57 355.1,842.92 354.3,843.39 353.49,843.77 352.69,844.02 351.89,844.42 351.09,844.85 350.29,844.96 349.49,845.1 348.68,845.5 347.88,846.27 347.08,846.01 346.28,846.05 345.48,846.93 344.68,847.42 343.87,847.95 343.07,848.87 342.27,849.53 341.47,849.63 340.67,849.81 339.87,849.85 339.06,850.91 338.26,851.4 337.46,851.11 336.66,851.82 335.86,852.87 335.06,853.44 334.25,853.91 333.45,853.84 332.65,853.91 331.85,854.05 331.05,854.62 330.25,855.12 329.44,854.94 328.64,855.07 327.84,855.44 327.04,855.9 326.24,856.37 325.44,856.81 324.63,857.27 323.83,857.55 323.03,857.73 322.23,857.98 321.43,858.51 320.63,858.9 319.82,858.48 319.02,858.92 318.22,858.81 317.42,858.46 316.62,858.78 315.82,858.78 315.01,858.83 314.21,859.32 313.41,859.82 312.61,859.83 311.81,859.95 311.01,859.73 310.2,859.83 309.4,860.73 308.6,861.14 307.8,861.49 307,861.85 306.2,862.94 305.39,863.19 304.59,863.64 303.79,863.85 302.99,863.4 302.19,863.72 301.39,864.06 300.58,863.93 299.78,864.36 298.98,864.83 298.18,864.82 297.38,864.37 296.58,865.02 295.77,865.99 294.97,866.42 294.17,866.52 293.37,866.52 292.57,866.68 291.77,866.91 290.96,867.41 290.16,867.92 289.36,868.49 288.56,868.12 287.76,868.13 286.96,868.56 286.15,868.47 285.35,868.69 284.55,868.9 283.75,869.07 282.95,869.38 282.15,869.7 281.34,869.66 280.54,870 279.74,870.35 278.94,870.53 278.14,871.11 277.34,871.25 276.53,871.02 275.73,870.98 274.93,871.51 274.13,871.64 273.33,872.2 272.53,872.87 271.72,873.44 270.92,873.94 270.12,874.77 269.32,875.1 268.52,874.81 267.72,874.79 266.91,875.45 266.11,875.52 265.31,875.41 264.51,876.49 263.71,876.53 262.91,876.17 262.1,877.36 261.3,877.78 260.5,877.79" fill="#000" fill-opacity="0.5"/>
<polygon points="260.5,830.68 261.3,830.28 262.1,830.34 262.91,830.32 263.71,830.24 264.51,830.13 265.31,830.16 266.11,830.11 266.91,829.82 267.72,829.86 268.52,829.6 269.32,829.54 270.12,829.86 270.92,829.64 271.72,829.08 272.53,830.05 273.33,830.23 274.13,829.88 274.93,829.58 275.73,829.57 276.53,829.37 277.34,828.33 278.14,828.36 278.94,828.45 279.74,828.42 280.54,828.58 281.34,828.84 282.15,829.12 282.95,828.81 283.75,829.04 284.55,830.32 285.35,829.41 286.15,828.9 286.96,829.13 287.76,828.99 288.56,828.78 289.36,828.35 290.16,828.96 290.96,829.19 291.77,828.7 292.57,828.84 293.37,829.33 294.17,828.72 294.97,828.09 295.77,827.85 296.58,828.3 297.38,827.95 298.18,826.89 298.98,827.59 299.78,828.37 300.58,828.71 301.39,828.7 302.19,828.82 302.99,828.87 303.79,829.21 304.59,830.91 305.39,830.62 306.2,829.69 307,829.49 307.8,829.62 308.6,829.81 309.4,829.49 310.2,829.51 311.01,829.41 311.81,829.52 312.61,829.6 313.41,829.46 314.21,830.24 315.01,830.85 315.82,830.56 316.62,830.54 317.42,829.99 318.22,829.78 319.02,829.87 319.82,829.62 320.63,829.87 321.43,830.08 322.23,830.17 323.03,830.21 323.83,830.21 324.63,830.21 325.44,830.52 326.24,831.44 327.04,831.47 327.84,830.66 328.64,830.63 329.44,830.96 330.25,831.2 331.05,831.29 331.85,831.34 332.65,830.97 333.45,830.56 334.25,830.15 335.06,830.58 335.86,831.13 336.66,830.83 337.46,830.8 338.26,830.94 339.06,830.88 339.87,831.3 340.67,831.34 341.47,831.62 342.27,831.75 343.07,831.04 343.87,831.16 344.68,832.01 345.48,831.93 346.28,831.41 347.08,830.98 347.88,830.99 348.68,831.2 349.49,830.9 350.29,831.33 351.09,831.17 351.89,830.91 352.69,830.83 353.49,830.68 354.3,830.78 355.1,831.14 355.9,831.15 356.7,830.99 357.5,830.85 358.3,830.28 359.11,830.68 359.91,831 360.71,830.97 361.51,831.2 362.31,831.38 363.11,830.97 363.92,830.97 364.72,831.23 365.52,831.26 366.32,830.66 367.12,830.49 367.92,831.33 368.73,831.58 369.53,831.51 370.33,830.99 371.13,831.31 371.93,831.51 372.73,831.14 373.54,831.19 374.34,831.41 375.14,831.24 375.94,831.03 376.74,830.85 377.54,831.01 378.35,830.99 379.15,830.81 379.95,830.29 380.75,829.77 381.55,830.2 382.35,830.15 383.16,829.6 383.96,829.64 384.76,830.57 385.56,830.86 386.36,830.43 387.16,830.17 387.97,829.8 388.77,829.99 389.57,830.01 390.37,829.76 391.17,830.01 391.97,830.39 392.78,830.33 393.58,829.83 394.38,829.43 395.18,830.07 395.98,829.89 396.78,829.77 397.59,829.88 398.39,829.74 399.19,829.66 399.99,829.25 400.79,829.04 401.59,829.68 402.4,829.81 403.2,829.2 404,829.46 404,856.96 403.2,857.16 402.4,857.44 401.59,857 400.79,856.73 399.99,856.68 399.19,856.45 398.39,856.75 397.59,857.02 396.78,857.22 395.98,857.55 395.18,857.45 394.38,857.48 393.58,857.6 392.78,857.82 391.97,857.61 391.17,857.24 390.37,856.99 389.57,856.9 388.77,856.78 387.97,856.34 387.16,855.84 386.36,854.84 385.56,856.13 384.76,857.12 383.96,857.19 383.16,857.22 382.35,856.93 381.55,856.85 380.75,857.08 379.95,856.95 379.15,857.86 378.35,857.29 377.54,856.68 376.74,856.72 375.94,856.4 375.14,856.03 374.34,855.96 373.54,856.16 372.73,855.42 371.93,854.54 371.13,855.1 370.33,855.29 369.53,855.24 368.73,855.55 367.92,855.26 367.12,855.22 366.32,855.83 365.52,855.28 364.72,854.42 363.92,854.47 363.11,853.79 362.31,853.22 361.51,853.86 360.71,854.29 359.91,854.01 359.11,854.09 358.3,854.52 357.5,854.8 356.7,855.11 355.9,855.18 355.1,854.54 354.3,855.36 353.49,856.05 352.69,855.04 351.89,854.16 351.09,855.41 350.29,855.83 349.49,856.13 348.68,856.18 347.88,856.12 347.08,856.66 346.28,856.84 345.48,856.98 344.68,857.4 343.87,857.94 343.07,857.83 342.27,857.5 341.47,858.03 340.67,858.52 339.87,858.45 339.06,858.59 338.26,858.67 337.46,858.72 336.66,858.42 335.86,858.37 335.06,858.09 334.25,857.46 333.45,857.88 332.65,858.12 331.85,857.46 331.05,857.63 330.25,857.79 329.44,857.75 328.64,857.67 327.84,857.5 327.04,857.67 326.24,857.81 325.44,857.73 324.63,857.6 323.83,857.73 323.03,857.99 322.23,858.29 321.43,858.19 320.63,858.69 319.82,858.51 319.02,857.99 318.22,857.94 317.42,858.03 316.62,857.93 315.82,858 315.01,857.88 314.21,857.76 313.41,857.88 312.61,857.27 311.81,857.68 311.01,857.86 310.2,857.73 309.4,858.1 308.6,857.99 307.8,858.08 307,858.47 306.2,857.96 305.39,857.45 304.59,858.09 303.79,858.2 302.99,858.32 302.19,858.4 301.39,858.39 300.58,858.47 299.78,858.46 298.98,858.65 298.18,858.67 297.38,858.53 296.58,858.71 295.77,859.18 294.97,859.33 294.17,858.98 293.37,859.01 292.57,858.93 291.77,858.98 290.96,858.96 290.16,858.87 289.36,859.14 288.56,859.04 287.76,859.2 286.96,859.94 286.15,859.54 285.35,859.09 284.55,859.08 283.75,859.13 282.95,859.21 282.15,859.16 281.34,859.87 280.54,859.58 279.74,858.02 278.94,857.93 278.14,859.17 277.34,859.39 276.53,859.39 275.73,859.44 274.93,859.43 274.13,859.55 273.33,859.61 272.53,859.73 271.72,859.34 270.92,859.43 270.12,860.07 269.32,860.2 268.52,860.04 267.72,859.91 266.91,859.76 266.11,859.98 265.31,860.01 264.51,859.95 263.71,859.67 262.91,859.37 262.1,860.11 261.3,860.2 260.5,860.06" fill="#20b2aa" fill-opacity="0.5"/>
<polyline points="260.5,859.4 263.49,858.44 266.48,857.48 269.47,856.53 272.46,855.58 275.45,854.65 278.44,853.72 281.43,852.79 284.42,851.88 287.41,850.97 290.4,850.06 293.39,849.17 296.38,848.28 299.36,847.4 302.35,846.54 305.34,845.7 308.33,844.88 311.32,844.06 314.31,843.24 317.3,842.43 320.29,841.61 323.28,840.78 326.27,839.93 329.26,839.06 332.25,838.17 335.24,837.25 338.23,836.32 341.22,835.37 344.21,834.41 347.2,833.44 350.19,832.45 353.18,831.45 356.17,830.43 359.16,829.39 362.15,828.33 365.14,827.26 368.12,826.17 371.11,825.06 374.1,823.92 377.09,822.76 380.08,821.57 383.07,820.35 386.06,819.1 389.05,817.82 392.04,816.5 395.03,815.12 398.02,813.69 401.01,812.21 404,810.7" fill="none" stroke="#000" stroke-width="3.5" stroke-linecap="square" stroke-linejoin="round"/>
<polyline points="260.5,845.9 404,843.4" fill="none" stroke="#20b2aa" stroke-width="3.5" stroke-linecap="square" stroke-linejoin="round"/>
<rect x="117.4" y="697" width="691.1" height="347" fill="none" stroke="#000" stroke-width="1.75"/>
<path d="M117.4 1044v6.2M270.98 1044v6.2M424.56 1044v6.2M578.13 1044v6.2M731.71 1044v6.2M117.4 1009.3h-6.2M117.4 939.9h-6.2M117.4 870.5h-6.2M117.4 801.1h-6.2M117.4 731.7h-6.2" stroke="#000" stroke-width="1.75" fill="none"/>
<g font-size="33.5" stroke="#000">
<text x="117.4" y="1081" text-anchor="middle">0</text>
<text x="270.98" y="1081" text-anchor="middle">200</text>
<text x="424.56" y="1081" text-anchor="middle">400</text>
<text x="578.13" y="1081" text-anchor="middle">600</text>
<text x="731.71" y="1081" text-anchor="middle">800</text>
<text x="106.2" y="1021.8" text-anchor="end">0.6</text>
<text x="106.2" y="952.4" text-anchor="end">0.7</text>
<text x="106.2" y="883" text-anchor="end">0.8</text>
<text x="106.2" y="813.6" text-anchor="end">0.9</text>
<text x="106.2" y="744.2" text-anchor="end">1.0</text>
</g>
<text x="462.65" y="1118.3" font-size="33.5" text-anchor="middle" font-style="italic" stroke="#000">t</text>
<text x="40.2" y="870.5" font-size="33.5" text-anchor="middle" transform="rotate(-90 40.2 870.5)" stroke="#000">Autocorrelation</text>
<text x="5.4" y="685.6" font-size="33.5" stroke="#000">(<tspan font-style="italic">b</tspan>)</text>
<text x="4.95" y="627.5" font-size="33.5" font-weight="bold" stroke="#000" textLength="305.6">Domino cascade</text>
<text stroke="#000"><tspan x="140" y="727.2" font-size="25" font-style="italic">τ</tspan><tspan x="155.05" y="731.1" font-size="17.5" font-style="italic">X</tspan><tspan x="166.9" y="734" font-size="12.25">1</tspan><tspan x="175.5" y="727.2" font-size="25"> = 0.863</tspan></text>
<text fill="#20b2aa" stroke="#20b2aa"><tspan x="140" y="757" font-size="25" font-style="italic">τ</tspan><tspan x="155.05" y="760.9" font-size="17.5" font-style="italic">X</tspan><tspan x="166.9" y="763.8" font-size="12.25">2</tspan><tspan x="175.5" y="757" font-size="25"> = 0.057</tspan></text>
<text x="140.4" y="905" font-size="25" fill="#ff6666" stroke="#ff6666">pre-tipping time span</text>
<text fill="#808080" stroke="#808080"><tspan x="424.6" y="988.1" font-size="25" font-style="italic">c</tspan><tspan x="438.4" y="991.9" font-size="17.5">1</tspan><tspan x="449.8" y="994.3" font-size="12.25" font-style="italic">crit</tspan><tspan x="470.55" y="988.1" font-size="25"> reached</tspan></text>
<line x1="137.8" y1="1007.7" x2="191.5" y2="1007.7" stroke="#000" stroke-width="3.5"/>
<text stroke="#000"><tspan x="209.4" y="1016.4" font-size="25" font-style="italic">X</tspan><tspan x="227" y="1020.5" font-size="17.5">1</tspan></text>
<line x1="287.2" y1="1007.7" x2="340.7" y2="1007.7" stroke="#20b2aa" stroke-width="3.5"/>
<text stroke="#000"><tspan x="358.5" y="1016.4" font-size="25" font-style="italic">X</tspan><tspan x="376.1" y="1020.5" font-size="17.5">2</tspan></text>
<rect x="245.44" y="1649.98" width="152.46" height="7.67" fill="#ff6666"/>
<line x1="418.4" y1="1657.65" x2="418.4" y2="1302.6" stroke="#949494" stroke-width="2.61" stroke-dasharray="9.11 4.4"/>
<polygon points="253.2,1449.92 254,1449.35 254.8,1448.78 255.6,1448.37 256.4,1447.81 257.19,1446.99 257.99,1446.51 258.79,1446.1 259.59,1446.37 260.39,1445.69 261.19,1445.24 261.99,1445.15 262.79,1444.78 263.58,1445.04 264.38,1444.92 265.18,1444.44 265.98,1444.26 266.78,1443.7 267.58,1443.33 268.38,1443.21 269.18,1443.03 269.98,1443.41 270.77,1443.63 271.57,1442.69 272.37,1443 273.17,1443.65 273.97,1443.27 274.77,1443.65 275.57,1442.88 276.37,1442.45 277.17,1442.24 277.96,1441.85 278.76,1441.55 279.56,1441.38 280.36,1441.41 281.16,1441.4 281.96,1440.87 282.76,1440.8 283.56,1440.05 284.35,1439.47 285.15,1440.03 285.95,1439.95 286.75,1440.15 287.55,1440 288.35,1439.88 289.15,1439.64 289.95,1439.31 290.75,1439.19 291.54,1438.89 292.34,1438.82 293.14,1438.95 293.94,1438.65 294.74,1438.61 295.54,1438.62 296.34,1438.39 297.14,1437.5 297.93,1437.27 298.73,1437.37 299.53,1437.39 300.33,1437.29 301.13,1436.73 301.93,1436.62 302.73,1436.12 303.53,1435.93 304.33,1435.7 305.12,1435.39 305.92,1435.61 306.72,1435.94 307.52,1436.05 308.32,1435.32 309.12,1434.72 309.92,1434.82 310.72,1435.36 311.52,1434.8 312.31,1434.56 313.11,1434.54 313.91,1433.16 314.71,1432.99 315.51,1433.99 316.31,1433.94 317.11,1433.25 317.91,1432.76 318.7,1431.77 319.5,1430.14 320.3,1430.14 321.1,1430.72 321.9,1430.51 322.7,1430.18 323.5,1430.48 324.3,1430.92 325.1,1430.01 325.89,1428.85 326.69,1429.11 327.49,1428.93 328.29,1427.82 329.09,1428.32 329.89,1429.26 330.69,1427.9 331.49,1427.11 332.28,1426.91 333.08,1426.98 333.88,1426.86 334.68,1426.95 335.48,1426.7 336.28,1426.58 337.08,1426.35 337.88,1426.15 338.68,1425.39 339.47,1425.41 340.27,1425.66 341.07,1425.99 341.87,1425.82 342.67,1424.06 343.47,1424.27 344.27,1424.28 345.07,1423.42 345.87,1423.42 346.66,1423.69 347.46,1424.3 348.26,1423.33 349.06,1422.69 349.86,1422.49 350.66,1422.12 351.46,1421.71 352.26,1421.65 353.05,1421.56 353.85,1421.6 354.65,1421.1 355.45,1420.74 356.25,1421.01 357.05,1421.04 357.85,1420.42 358.65,1419.66 359.45,1419.31 360.24,1418.87 361.04,1418.32 361.84,1417.95 362.64,1417.59 363.44,1417.1 364.24,1416.73 365.04,1416.37 365.84,1415.83 366.63,1415.08 367.43,1415.08 368.23,1414.92 369.03,1414.28 369.83,1413.69 370.63,1413.6 371.43,1413.44 372.23,1413.06 373.03,1412.79 373.82,1412.43 374.62,1412.19 375.42,1411.73 376.22,1411.1 377.02,1411.07 377.82,1410.85 378.62,1410.58 379.42,1410.56 380.22,1410.56 381.01,1410.26 381.81,1409.39 382.61,1408.94 383.41,1408.67 384.21,1408.64 385.01,1408.47 385.81,1407.9 386.61,1407.36 387.4,1406.99 388.2,1406.18 389,1404.1 389.8,1403.98 390.6,1403.8 390.6,1432.61 389.8,1433.21 389,1434.12 388.2,1434.34 387.4,1434.23 386.61,1434.7 385.81,1435.47 385.01,1435.79 384.21,1435.89 383.41,1436.86 382.61,1437.11 381.81,1437.59 381.01,1438.16 380.22,1438.27 379.42,1439.03 378.62,1439.55 377.82,1439.86 377.02,1439.97 376.22,1439.88 375.42,1440.95 374.62,1441.86 373.82,1442.28 373.03,1442.66 372.23,1443.47 371.43,1444.02 370.63,1444.21 369.83,1444.53 369.03,1445.6 368.23,1445.62 367.43,1444.99 366.63,1445.56 365.84,1446.25 365.04,1446.58 364.24,1446.49 363.44,1446.86 362.64,1447.14 361.84,1447.04 361.04,1447.88 360.24,1448.37 359.45,1448.89 358.65,1449.99 357.85,1450.61 357.05,1450.96 356.25,1451.21 355.45,1451.45 354.65,1451.53 353.85,1451.68 353.05,1452.14 352.26,1452.35 351.46,1452.69 350.66,1452.72 349.86,1452.96 349.06,1453.39 348.26,1453.65 347.46,1453.94 346.66,1454.19 345.87,1454.81 345.07,1454.57 344.27,1454.46 343.47,1454.44 342.67,1454.64 341.87,1455.19 341.07,1455.7 340.27,1456.11 339.47,1456.29 338.68,1456.62 337.88,1456.9 337.08,1456.95 336.28,1457.05 335.48,1457.44 334.68,1458.14 333.88,1458.57 333.08,1458.62 332.28,1458.55 331.49,1458.55 330.69,1458.64 329.89,1458.97 329.09,1460.28 328.29,1459.41 327.49,1459.46 326.69,1459.57 325.89,1459.56 325.1,1459.8 324.3,1460.1 323.5,1460.39 322.7,1460.1 321.9,1459.37 321.1,1460.06 320.3,1460.27 319.5,1460.95 318.7,1461.24 317.91,1461.29 317.11,1461.25 316.31,1461.4 315.51,1461.9 314.71,1461.72 313.91,1461.56 313.11,1461.84 312.31,1462.43 311.52,1462.63 310.72,1462.76 309.92,1462.88 309.12,1462.97 308.32,1463.12 307.52,1463.11 306.72,1462.61 305.92,1462.8 305.12,1463.38 304.33,1463.7 303.53,1464.34 302.73,1465.03 301.93,1465.37 301.13,1464.97 300.33,1466.17 299.53,1467.63 298.73,1468.28 297.93,1468.67 297.14,1469.18 296.34,1470.38 295.54,1470.61 294.74,1470.85 293.94,1471.07 293.14,1471.3 292.34,1471.63 291.54,1471.6 290.75,1472.29 289.95,1472.35 289.15,1472.1 288.35,1472.55 287.55,1472.81 286.75,1473.4 285.95,1473.69 285.15,1473.69 284.35,1473.66 283.56,1474.44 282.76,1474.93 281.96,1475.01 281.16,1475 280.36,1475.2 279.56,1475.28 278.76,1475.84 277.96,1476.55 277.17,1476.7 276.37,1476.94 275.57,1476.77 274.77,1477.8 273.97,1478.74 273.17,1477.27 272.37,1476.29 271.57,1478.29 270.77,1479.27 269.98,1479.21 269.18,1478.8 268.38,1478.77 267.58,1479.28 266.78,1480.36 265.98,1480.48 265.18,1479.61 264.38,1479.79 263.58,1480.4 262.79,1480.42 261.99,1480.47 261.19,1480.57 260.39,1480.76 259.59,1480.78 258.79,1480.68 257.99,1480.46 257.19,1480.02 256.4,1480.5 255.6,1481.07 254.8,1481.57 254,1481.58 253.2,1481.48" fill="#000" fill-opacity="0.5"/>
<polygon points="253.2,1388.04 254,1388.6 254.8,1388.96 255.6,1388.98 256.4,1389.23 257.19,1389.19 257.99,1389.34 258.79,1389.11 259.59,1389.19 260.39,1389.52 261.19,1388.98 261.99,1388.95 262.79,1389.74 263.58,1389.25 264.38,1388.61 265.18,1388.87 265.98,1388.98 266.78,1388.94 267.58,1389.35 268.38,1389.13 269.18,1388.66 269.98,1388.53 270.77,1388.05 271.57,1388.12 272.37,1388.32 273.17,1388.4 273.97,1388.89 274.77,1388.48 275.57,1388.39 276.37,1388.24 277.17,1388.36 277.96,1388.24 278.76,1387.65 279.56,1388.2 280.36,1388.3 281.16,1388.07 281.96,1388.54 282.76,1388.71 283.56,1388.85 284.35,1388.82 285.15,1388.84 285.95,1389.35 286.75,1389.12 287.55,1389.19 288.35,1388.99 289.15,1388.91 289.95,1389.33 290.75,1389.31 291.54,1389.15 292.34,1389.46 293.14,1389.5 293.94,1389.52 294.74,1388.71 295.54,1388.86 296.34,1389.69 297.14,1390.05 297.93,1390.26 298.73,1389.74 299.53,1389.59 300.33,1389.55 301.13,1389.58 301.93,1389.76 302.73,1390.12 303.53,1390.52 304.33,1390.49 305.12,1390.41 305.92,1390.32 306.72,1390.4 307.52,1390.24 308.32,1390.13 309.12,1390.37 309.92,1390.05 310.72,1389.95 311.52,1389.98 312.31,1390.47 313.11,1391.15 313.91,1391.15 314.71,1391.13 315.51,1390.9 316.31,1391.11 317.11,1391.74 317.91,1392.62 318.7,1392.41 319.5,1391.85 320.3,1391.78 321.1,1392.09 321.9,1391.74 322.7,1391.73 323.5,1391.77 324.3,1391.72 325.1,1392.07 325.89,1392.19 326.69,1392.06 327.49,1392.3 328.29,1392.1 329.09,1391.73 329.89,1391.46 330.69,1391.51 331.49,1391.7 332.28,1391.5 333.08,1390.71 333.88,1390.79 334.68,1391.21 335.48,1390.81 336.28,1390.44 337.08,1390.48 337.88,1390.22 338.68,1390.11 339.47,1390.04 340.27,1389.59 341.07,1388.1 341.87,1388.03 342.67,1389.29 343.47,1389.92 344.27,1389.14 345.07,1388.6 345.87,1388.95 346.66,1389.61 347.46,1389.59 348.26,1390.14 349.06,1389.67 349.86,1388.87 350.66,1388.47 351.46,1388.32 352.26,1388.18 353.05,1388.38 353.85,1388.65 354.65,1388.91 355.45,1388.9 356.25,1388.58 357.05,1388.4 357.85,1388.26 358.65,1388.13 359.45,1388.17 360.24,1388.7 361.04,1388.12 361.84,1387.54 362.64,1388.68 363.44,1389.12 364.24,1389.71 365.04,1389.34 365.84,1388.74 366.63,1388.79 367.43,1388.7 368.23,1389.15 369.03,1388.97 369.83,1388.06 370.63,1388.41 371.43,1388.91 372.23,1388.13 373.03,1387.8 373.82,1388.35 374.62,1388.62 375.42,1388.88 376.22,1388.79 377.02,1388.48 377.82,1388.09 378.62,1388 379.42,1387.98 380.22,1387.84 381.01,1387.18 381.81,1386.53 382.61,1387.58 383.41,1388.36 384.21,1388.65 385.01,1387.6 385.81,1386.27 386.61,1387.69 387.4,1388.06 388.2,1387.91 389,1388.39 389.8,1387.86 390.6,1387.58 390.6,1407.07 389.8,1407.07 389,1407.22 388.2,1407.19 387.4,1407.43 386.61,1407.79 385.81,1407.95 385.01,1408.05 384.21,1408.03 383.41,1408.26 382.61,1408.58 381.81,1408.61 381.01,1408.9 380.22,1409.27 379.42,1409.13 378.62,1409.52 377.82,1409.05 377.02,1409.15 376.22,1409.44 375.42,1409.46 374.62,1409.74 373.82,1409.8 373.03,1409.43 372.23,1409.48 371.43,1410 370.63,1409.98 369.83,1410.26 369.03,1410.42 368.23,1410.56 367.43,1411.17 366.63,1411.01 365.84,1410.6 365.04,1410.74 364.24,1411.06 363.44,1411.07 362.64,1411.01 361.84,1410.97 361.04,1410.82 360.24,1410.95 359.45,1410.94 358.65,1411.04 357.85,1411.31 357.05,1410.85 356.25,1410.64 355.45,1410.48 354.65,1410.39 353.85,1410.86 353.05,1410.85 352.26,1411.22 351.46,1412.02 350.66,1412.27 349.86,1412.71 349.06,1413.1 348.26,1411.76 347.46,1411.24 346.66,1411.61 345.87,1412.17 345.07,1411.6 344.27,1411.46 343.47,1411.81 342.67,1411.17 341.87,1411.09 341.07,1410.72 340.27,1410.28 339.47,1410.92 338.68,1411.25 337.88,1410.79 337.08,1410.6 336.28,1410.72 335.48,1411.06 334.68,1411.55 333.88,1411.52 333.08,1411.67 332.28,1411.75 331.49,1410.7 330.69,1410.51 329.89,1410.91 329.09,1411.16 328.29,1411.39 327.49,1411.02 326.69,1411.55 325.89,1411.55 325.1,1410.91 324.3,1410.95 323.5,1411.31 322.7,1411.29 321.9,1410.69 321.1,1410.84 320.3,1411.51 319.5,1411.6 318.7,1410.98 317.91,1411.6 317.11,1411.88 316.31,1411.93 315.51,1412.08 314.71,1412.07 313.91,1411.8 313.11,1411.28 312.31,1411.91 311.52,1412.12 310.72,1412.19 309.92,1412.11 309.12,1411.65 308.32,1411.54 307.52,1412.08 306.72,1412.29 305.92,1412.42 305.12,1412.88 304.33,1411.95 303.53,1411.05 302.73,1411.78 301.93,1412.51 301.13,1412.58 300.33,1412.32 299.53,1412.63 298.73,1412.7 297.93,1412.49 297.14,1412.49 296.34,1412.89 295.54,1413.4 294.74,1413.82 293.94,1413.8 293.14,1414.06 292.34,1413.9 291.54,1413.58 290.75,1413.54 289.95,1413.83 289.15,1413.85 288.35,1413.54 287.55,1413.69 286.75,1414.16 285.95,1414.07 285.15,1414.07 284.35,1414.56 283.56,1413.48 282.76,1413.56 281.96,1414.08 281.16,1413.71 280.36,1413.9 279.56,1414.3 278.76,1414.25 277.96,1414.39 277.17,1413.97 276.37,1413.98 275.57,1414.65 274.77,1414.58 273.97,1414.36 273.17,1414.02 272.37,1414.95 271.57,1416.25 270.77,1415.55 269.98,1415.06 269.18,1414.72 268.38,1415.07 267.58,1415.61 266.78,1415.69 265.98,1415.74 265.18,1416.06 264.38,1415.75 263.58,1415.39 262.79,1415.92 261.99,1416.09 261.19,1416.32 260.39,1416.03 259.59,1416.1 258.79,1416.66 257.99,1416.67 257.19,1416.37 256.4,1416.4 255.6,1416.49 254.8,1416.2 254,1416.4 253.2,1416.42" fill="#20b2aa" fill-opacity="0.5"/>
<polyline points="253.2,1465.3 256.19,1464.75 259.17,1464.17 262.16,1463.56 265.15,1462.93 268.13,1462.27 271.12,1461.59 274.11,1460.89 277.1,1460.17 280.08,1459.43 283.07,1458.67 286.06,1457.89 289.04,1457.1 292.03,1456.29 295.02,1455.46 298,1454.59 300.99,1453.68 303.98,1452.73 306.97,1451.75 309.95,1450.75 312.94,1449.72 315.93,1448.68 318.91,1447.63 321.9,1446.57 324.89,1445.51 327.87,1444.45 330.86,1443.4 333.85,1442.34 336.83,1441.27 339.82,1440.19 342.81,1439.1 345.8,1438 348.78,1436.89 351.77,1435.78 354.76,1434.65 357.74,1433.52 360.73,1432.38 363.72,1431.24 366.7,1430.12 369.69,1429.02 372.68,1427.9 375.67,1426.73 378.65,1425.45 381.64,1424.04 384.63,1422.41 387.61,1420.62 390.6,1418.7" fill="none" stroke="#000" stroke-width="3.58" stroke-linecap="square" stroke-linejoin="round"/>
<polyline points="253.2,1403 256.19,1402.88 259.17,1402.77 262.16,1402.65 265.15,1402.54 268.13,1402.42 271.12,1402.31 274.11,1402.19 277.1,1402.08 280.08,1401.97 283.07,1401.86 286.06,1401.74 289.04,1401.63 292.03,1401.52 295.02,1401.41 298,1401.3 300.99,1401.19 303.98,1401.08 306.97,1400.97 309.95,1400.86 312.94,1400.75 315.93,1400.65 318.91,1400.54 321.9,1400.43 324.89,1400.33 327.87,1400.23 330.86,1400.14 333.85,1400.05 336.83,1399.96 339.82,1399.87 342.81,1399.78 345.8,1399.69 348.78,1399.59 351.77,1399.49 354.76,1399.38 357.74,1399.26 360.73,1399.12 363.72,1398.98 366.7,1398.81 369.69,1398.61 372.68,1398.39 375.67,1398.14 378.65,1397.88 381.64,1397.6 384.63,1397.31 387.61,1397.01 390.6,1396.7" fill="none" stroke="#20b2aa" stroke-width="3.58" stroke-linecap="square" stroke-linejoin="round"/>
<rect x="115.9" y="1302.6" width="707.13" height="355.05" fill="none" stroke="#000" stroke-width="1.79"/>
<path d="M115.9 1657.65v6.34M273.04 1657.65v6.34M430.18 1657.65v6.34M587.32 1657.65v6.34M744.46 1657.65v6.34M115.9 1622.15h-6.34M115.9 1551.14h-6.34M115.9 1480.13h-6.34M115.9 1409.12h-6.34M115.9 1338.11h-6.34" stroke="#000" stroke-width="1.79" fill="none"/>
<g font-size="34.28" stroke="#000">
<text x="115.9" y="1695.21" text-anchor="middle">0</text>
<text x="273.04" y="1695.21" text-anchor="middle">200</text>
<text x="430.18" y="1695.21" text-anchor="middle">400</text>
<text x="587.32" y="1695.21" text-anchor="middle">600</text>
<text x="744.46" y="1695.21" text-anchor="middle">800</text>
<text x="104.44" y="1634.94" text-anchor="end">0.6</text>
<text x="104.44" y="1563.93" text-anchor="end">0.7</text>
<text x="104.44" y="1492.92" text-anchor="end">0.8</text>
<text x="104.44" y="1421.91" text-anchor="end">0.9</text>
<text x="104.44" y="1350.9" text-anchor="end">1.0</text>
</g>
<text x="469.16" y="1733.67" font-size="34.28" text-anchor="middle" font-style="italic" stroke="#000">t</text>
<text x="36.91" y="1480.13" font-size="34.28" text-anchor="middle" transform="rotate(-90 36.91 1480.13)" stroke="#000">Autocorrelation</text>
<text x="1.3" y="1290.94" font-size="34.28" stroke="#000">(<tspan font-style="italic">c</tspan>)</text>
<text x="2.3" y="1231.2" font-size="33.9" font-weight="bold" stroke="#000">Joint cascade</text>
<text stroke="#000"><tspan x="138.83" y="1332.9" font-size="25.58" font-style="italic">τ</tspan><tspan x="154.23" y="1336.89" font-size="17.91" font-style="italic">X</tspan><tspan x="166.36" y="1339.86" font-size="12.53">1</tspan><tspan x="175.16" y="1332.9" font-size="25.58"> = 0.848</tspan></text>
<text fill="#20b2aa" stroke="#20b2aa"><tspan x="138.83" y="1363.39" font-size="25.58" font-style="italic">τ</tspan><tspan x="154.23" y="1367.38" font-size="17.91" font-style="italic">X</tspan><tspan x="166.36" y="1370.35" font-size="12.53">2</tspan><tspan x="175.16" y="1363.39" font-size="25.58"> = 0.187</tspan></text>
<text x="139.43" y="1515.43" font-size="25.58" fill="#ff6666" stroke="#ff6666">pre-tipping time span</text>
<text fill="#808080" stroke="#808080"><tspan x="430.23" y="1600.45" font-size="25.58" font-style="italic">c</tspan><tspan x="444.35" y="1604.34" font-size="17.91">1</tspan><tspan x="456.01" y="1606.8" font-size="12.53" font-style="italic">crit</tspan><tspan x="477.24" y="1600.45" font-size="25.58"> reached</tspan></text>
<line x1="136.77" y1="1620.51" x2="191.72" y2="1620.51" stroke="#000" stroke-width="3.58"/>
<text stroke="#000"><tspan x="210.03" y="1629.41" font-size="25.58" font-style="italic">X</tspan><tspan x="228.04" y="1633.61" font-size="17.91">1</tspan></text>
<line x1="289.64" y1="1620.51" x2="344.38" y2="1620.51" stroke="#20b2aa" stroke-width="3.58"/>
<text stroke="#000"><tspan x="362.59" y="1629.41" font-size="25.58" font-style="italic">X</tspan><tspan x="380.6" y="1633.61" font-size="17.91">2</tspan></text>
<rect x="1156.19" y="431.38" width="162.43" height="7.68" fill="#ff6666"/>
<rect x="1477" y="431.38" width="18.9" height="7.68" fill="#ff1919"/>
<rect x="1511.9" y="431.38" width="18.6" height="7.68" fill="#ff1919"/>
<rect x="1547" y="431.38" width="18.7" height="7.68" fill="#ff1919"/>
<rect x="1582" y="431.38" width="18.9" height="7.68" fill="#ff1919"/>
<rect x="1616.9" y="431.38" width="22.2" height="7.68" fill="#ff1919"/>
<line x1="1319.78" y1="439.06" x2="1319.78" y2="88" stroke="#949494" stroke-width="2.61" stroke-dasharray="9.11 4.4"/>
<polygon points="1164,347.06 1164.8,347.12 1165.6,347.51 1166.41,346.76 1167.21,346.05 1168.01,345.37 1168.81,345.4 1169.62,345.35 1170.42,344.6 1171.22,344.12 1172.02,343.82 1172.82,343.67 1173.63,343.04 1174.43,342.3 1175.23,341.41 1176.03,341.02 1176.83,340.97 1177.64,340.69 1178.44,340.32 1179.24,339.79 1180.04,339.4 1180.85,339.31 1181.65,339.02 1182.45,338.61 1183.25,338.32 1184.05,338.03 1184.86,337.95 1185.66,337.93 1186.46,337.5 1187.26,337.4 1188.07,337.52 1188.87,337.72 1189.67,338.09 1190.47,337.23 1191.27,337.01 1192.08,337.07 1192.88,336.99 1193.68,337.45 1194.48,338.19 1195.29,337.51 1196.09,337.3 1196.89,336.81 1197.69,336.32 1198.49,336.45 1199.3,335.94 1200.1,336.55 1200.9,336.09 1201.7,336.66 1202.5,336.76 1203.31,336.13 1204.11,336.24 1204.91,336.49 1205.71,336.84 1206.52,336.82 1207.32,336.38 1208.12,335.71 1208.92,336.57 1209.72,337.05 1210.53,336.48 1211.33,335.67 1212.13,335.12 1212.93,334.92 1213.74,334.87 1214.54,333.71 1215.34,332.55 1216.14,332.87 1216.94,331.79 1217.75,330.82 1218.55,330.17 1219.35,329.45 1220.15,329.05 1220.96,328.47 1221.76,327.48 1222.56,327.66 1223.36,327.4 1224.16,326.53 1224.97,326.46 1225.77,326.01 1226.57,325.94 1227.37,325.73 1228.17,325.56 1228.98,325.78 1229.78,324.76 1230.58,323.49 1231.38,322.63 1232.19,321.86 1232.99,322.94 1233.79,322.81 1234.59,321.3 1235.39,322.16 1236.2,322.22 1237,321.8 1237.8,320.31 1238.6,318.92 1239.41,319.34 1240.21,319.7 1241.01,319.89 1241.81,319.62 1242.61,319.72 1243.42,321.41 1244.22,319.76 1245.02,318.14 1245.82,318.19 1246.63,317.46 1247.43,316.57 1248.23,316.48 1249.03,316.66 1249.83,316.12 1250.64,315.29 1251.44,313.57 1252.24,312.95 1253.04,314.11 1253.84,314.57 1254.65,313.26 1255.45,312.65 1256.25,313.03 1257.05,313.53 1257.86,312.48 1258.66,312.06 1259.46,312.33 1260.26,311.99 1261.06,312.41 1261.87,312.2 1262.67,311.65 1263.47,312.39 1264.27,312.32 1265.08,312.13 1265.88,311.27 1266.68,310.86 1267.48,311.7 1268.28,311 1269.09,309.8 1269.89,308.71 1270.69,308.03 1271.49,307.52 1272.3,306.68 1273.1,305.46 1273.9,304.78 1274.7,303.97 1275.5,303.75 1276.31,304.02 1277.11,302.58 1277.91,301.32 1278.71,300.46 1279.51,299.07 1280.32,298.68 1281.12,298.62 1281.92,297.75 1282.72,296.56 1283.53,296.03 1284.33,295.89 1285.13,294.7 1285.93,294.42 1286.73,293.91 1287.54,293.51 1288.34,292.75 1289.14,291.65 1289.94,291 1290.75,290.54 1291.55,290.13 1292.35,289.61 1293.15,289.28 1293.95,288.65 1294.76,288.83 1295.56,289.49 1296.36,287.67 1297.16,287.06 1297.97,286.72 1298.77,285.82 1299.57,285.71 1300.37,285.88 1301.17,284.7 1301.98,284.09 1302.78,283.21 1303.58,282.13 1304.38,280.8 1305.18,279.47 1305.99,278.31 1306.79,276.73 1307.59,275.48 1308.39,275.19 1309.2,274.95 1310,273.12 1310.8,271.09 1310.8,330.34 1310,330.64 1309.2,330.79 1308.39,331.7 1307.59,332.13 1306.79,332.34 1305.99,333.33 1305.18,333.88 1304.38,334.01 1303.58,334.33 1302.78,335.54 1301.98,336.28 1301.17,336.62 1300.37,336.99 1299.57,337.1 1298.77,337.94 1297.97,338.91 1297.16,339.54 1296.36,339.93 1295.56,340.11 1294.76,340.41 1293.95,340.73 1293.15,341.25 1292.35,341.75 1291.55,342.01 1290.75,342.77 1289.94,343.17 1289.14,343.39 1288.34,343.53 1287.54,344.24 1286.73,344.72 1285.93,343.55 1285.13,342.81 1284.33,344.01 1283.53,344.81 1282.72,345.24 1281.92,345.52 1281.12,345.84 1280.32,346.54 1279.51,346.43 1278.71,346.7 1277.91,347.12 1277.11,347.42 1276.31,348.66 1275.5,349.11 1274.7,349.09 1273.9,349.54 1273.1,349.73 1272.3,350 1271.49,350.69 1270.69,351.06 1269.89,351.24 1269.09,351.93 1268.28,352.74 1267.48,353.5 1266.68,353.93 1265.88,354.47 1265.08,355.22 1264.27,355.73 1263.47,356.99 1262.67,358.85 1261.87,358.01 1261.06,357.85 1260.26,358.55 1259.46,359.2 1258.66,359.8 1257.86,360.58 1257.05,360.7 1256.25,360.92 1255.45,361.51 1254.65,362.1 1253.84,362.11 1253.04,362.23 1252.24,362.81 1251.44,362.82 1250.64,362.56 1249.83,363.13 1249.03,363.49 1248.23,363.37 1247.43,363.04 1246.63,362.89 1245.82,363.44 1245.02,363.93 1244.22,364.63 1243.42,363.86 1242.61,363.56 1241.81,363.96 1241.01,364.45 1240.21,365.6 1239.41,365.4 1238.6,365.05 1237.8,365.24 1237,365.52 1236.2,365.6 1235.39,365.48 1234.59,365.32 1233.79,365.51 1232.99,366.05 1232.19,366.62 1231.38,367.55 1230.58,367.38 1229.78,366.31 1228.98,366.17 1228.17,365.61 1227.37,364.78 1226.57,366.35 1225.77,367.08 1224.97,367.49 1224.16,367.26 1223.36,367.14 1222.56,368.1 1221.76,368.87 1220.96,368.08 1220.15,367.92 1219.35,367.51 1218.55,366.54 1217.75,365.63 1216.94,367.09 1216.14,367.32 1215.34,367.12 1214.54,368.87 1213.74,370.38 1212.93,370.17 1212.13,369.45 1211.33,369.5 1210.53,369.56 1209.72,369.44 1208.92,369.86 1208.12,369.91 1207.32,369.74 1206.52,370.16 1205.71,370.5 1204.91,370.71 1204.11,371.22 1203.31,371.48 1202.5,371.71 1201.7,371.98 1200.9,372.26 1200.1,371.81 1199.3,370.72 1198.49,372.47 1197.69,372.8 1196.89,372.71 1196.09,371.94 1195.29,370.98 1194.48,371.95 1193.68,372.52 1192.88,373.24 1192.08,373.16 1191.27,373.55 1190.47,374.63 1189.67,374.83 1188.87,374.58 1188.07,374.64 1187.26,374.72 1186.46,374.88 1185.66,375.07 1184.86,375.19 1184.05,375.11 1183.25,374.97 1182.45,375.46 1181.65,375.42 1180.85,374.95 1180.04,375.66 1179.24,375.99 1178.44,376.12 1177.64,376.35 1176.83,376.27 1176.03,376.5 1175.23,378.63 1174.43,378.1 1173.63,376.7 1172.82,376.6 1172.02,377.12 1171.22,377.45 1170.42,377.42 1169.62,377.36 1168.81,377.19 1168.01,377.44 1167.21,378.06 1166.41,378.52 1165.6,378.56 1164.8,378.32 1164,379.02" fill="#000" fill-opacity="0.5"/>
<polygon points="1164,334.77 1164.8,334.84 1165.6,334.41 1166.41,333.33 1167.21,333.29 1168.01,333.19 1168.81,333.39 1169.62,332.95 1170.42,331.77 1171.22,330.94 1172.02,331.39 1172.82,331.47 1173.63,331.98 1174.43,333.34 1175.23,333.13 1176.03,332.45 1176.83,333.61 1177.64,334.59 1178.44,335.27 1179.24,335.44 1180.04,335.83 1180.85,336.28 1181.65,335.82 1182.45,336.03 1183.25,336.86 1184.05,337.76 1184.86,337.4 1185.66,337.21 1186.46,337.14 1187.26,337.15 1188.07,337.43 1188.87,337.68 1189.67,337.35 1190.47,336.59 1191.27,336.54 1192.08,337.75 1192.88,338.11 1193.68,337 1194.48,336.86 1195.29,337.82 1196.09,338.24 1196.89,338.12 1197.69,337.69 1198.49,337.45 1199.3,337.11 1200.1,336.3 1200.9,337.52 1201.7,338.06 1202.5,337.71 1203.31,336.87 1204.11,336.46 1204.91,337.2 1205.71,337.93 1206.52,337.96 1207.32,337.21 1208.12,337.11 1208.92,337.59 1209.72,337.97 1210.53,338.17 1211.33,338.72 1212.13,338.36 1212.93,336.71 1213.74,337.3 1214.54,337.55 1215.34,337.16 1216.14,337.43 1216.94,338.01 1217.75,338.38 1218.55,338.64 1219.35,338.7 1220.15,338.72 1220.96,338.54 1221.76,338.07 1222.56,338.33 1223.36,338.67 1224.16,338.28 1224.97,337.94 1225.77,339.15 1226.57,339.97 1227.37,340.14 1228.17,340.05 1228.98,339.53 1229.78,339.66 1230.58,339.34 1231.38,338.36 1232.19,338.04 1232.99,338.03 1233.79,338.03 1234.59,337.84 1235.39,337.72 1236.2,337.82 1237,337.84 1237.8,338.59 1238.6,339.37 1239.41,337.96 1240.21,338.06 1241.01,338.2 1241.81,337.77 1242.61,337.79 1243.42,337.79 1244.22,337.58 1245.02,337.3 1245.82,337.24 1246.63,338.01 1247.43,338.17 1248.23,337.3 1249.03,336.9 1249.83,337.43 1250.64,337.78 1251.44,337.84 1252.24,337.97 1253.04,337.64 1253.84,337.42 1254.65,337.47 1255.45,337.18 1256.25,337.12 1257.05,337.37 1257.86,337.49 1258.66,337.32 1259.46,337.41 1260.26,337.07 1261.06,337.41 1261.87,337.87 1262.67,337.12 1263.47,336.95 1264.27,336.76 1265.08,336.67 1265.88,336.46 1266.68,336.41 1267.48,336.88 1268.28,336.85 1269.09,336.94 1269.89,336.89 1270.69,336.77 1271.49,337.02 1272.3,337.15 1273.1,336.97 1273.9,337.34 1274.7,337.68 1275.5,337.1 1276.31,336.58 1277.11,336.33 1277.91,336.23 1278.71,336.57 1279.51,336.83 1280.32,335.72 1281.12,335.64 1281.92,336.19 1282.72,335.68 1283.53,335.63 1284.33,336.81 1285.13,336.84 1285.93,336.02 1286.73,337.43 1287.54,337.1 1288.34,335.35 1289.14,334.68 1289.94,334.95 1290.75,335.07 1291.55,334.68 1292.35,333.44 1293.15,334.1 1293.95,334.48 1294.76,334.21 1295.56,333.88 1296.36,334.2 1297.16,334.32 1297.97,333.63 1298.77,333.15 1299.57,333.46 1300.37,333.15 1301.17,333.02 1301.98,333.7 1302.78,334.14 1303.58,333.97 1304.38,333.93 1305.18,333.46 1305.99,333.18 1306.79,332.63 1307.59,332.73 1308.39,333.26 1309.2,332.97 1310,332.76 1310.8,332.44 1310.8,368.14 1310,368.33 1309.2,368.29 1308.39,368.46 1307.59,368.47 1306.79,368.67 1305.99,368.92 1305.18,368.66 1304.38,368.33 1303.58,368.43 1302.78,368.44 1301.98,368.33 1301.17,368.21 1300.37,367.64 1299.57,367.72 1298.77,368.53 1297.97,369.41 1297.16,368.51 1296.36,368.39 1295.56,368.24 1294.76,367.94 1293.95,367.77 1293.15,367.52 1292.35,368.1 1291.55,368.29 1290.75,368.42 1289.94,368.38 1289.14,368.36 1288.34,368.2 1287.54,367.94 1286.73,367.6 1285.93,367.51 1285.13,367.51 1284.33,367.34 1283.53,367.32 1282.72,367.17 1281.92,365.98 1281.12,365.53 1280.32,367.25 1279.51,367.52 1278.71,367.29 1277.91,366.98 1277.11,367.13 1276.31,367.77 1275.5,367.63 1274.7,367.41 1273.9,367.38 1273.1,367.1 1272.3,367.45 1271.49,367.44 1270.69,366.47 1269.89,367.51 1269.09,368.33 1268.28,368.36 1267.48,367.83 1266.68,367.63 1265.88,367.72 1265.08,367.81 1264.27,368.75 1263.47,369.17 1262.67,368.33 1261.87,367.61 1261.06,367.88 1260.26,368.57 1259.46,367.75 1258.66,367.56 1257.86,366.85 1257.05,366.37 1256.25,367.47 1255.45,367.5 1254.65,367.45 1253.84,367.22 1253.04,367.9 1252.24,368.01 1251.44,366.81 1250.64,367.76 1249.83,368.53 1249.03,368.71 1248.23,368.27 1247.43,367.87 1246.63,368.57 1245.82,368.93 1245.02,368.07 1244.22,368.1 1243.42,368.17 1242.61,367.84 1241.81,368.45 1241.01,368.3 1240.21,368.2 1239.41,368.53 1238.6,368.61 1237.8,368.56 1237,368.19 1236.2,368.19 1235.39,368.73 1234.59,368.85 1233.79,368.64 1232.99,368.75 1232.19,368.6 1231.38,368.93 1230.58,369.21 1229.78,368.85 1228.98,368.58 1228.17,368.66 1227.37,369.01 1226.57,369.14 1225.77,369.23 1224.97,369.12 1224.16,369.14 1223.36,369.2 1222.56,369.01 1221.76,368.82 1220.96,367.33 1220.15,368.45 1219.35,369.69 1218.55,369.25 1217.75,369.7 1216.94,370.23 1216.14,370.31 1215.34,370.07 1214.54,369.7 1213.74,369.37 1212.93,369.26 1212.13,369.38 1211.33,369.73 1210.53,369.71 1209.72,368.37 1208.92,369.21 1208.12,370.13 1207.32,370.91 1206.52,371.36 1205.71,370.92 1204.91,370.74 1204.11,370.08 1203.31,370.27 1202.5,371.23 1201.7,371.36 1200.9,370.59 1200.1,370.54 1199.3,370.75 1198.49,370.41 1197.69,370.47 1196.89,370.4 1196.09,369.48 1195.29,369.51 1194.48,370.53 1193.68,370.23 1192.88,370.02 1192.08,370.12 1191.27,369.31 1190.47,369.43 1189.67,370.19 1188.87,370.82 1188.07,370.51 1187.26,370.37 1186.46,370.67 1185.66,370.56 1184.86,369.75 1184.05,370.11 1183.25,370.4 1182.45,370.53 1181.65,371.05 1180.85,370.98 1180.04,370.7 1179.24,371.63 1178.44,370.95 1177.64,369.83 1176.83,370.45 1176.03,370.54 1175.23,370.5 1174.43,371.05 1173.63,371.06 1172.82,370.1 1172.02,370.57 1171.22,370.96 1170.42,370.8 1169.62,370.74 1168.81,370.56 1168.01,370.37 1167.21,370.92 1166.41,371.27 1165.6,369.9 1164.8,369.33 1164,370.47" fill="#20b2aa" fill-opacity="0.5"/>
<polyline points="1164,363.6 1167,362.8 1169.99,362.02 1172.99,361.25 1175.98,360.49 1178.98,359.75 1181.98,359.03 1184.97,358.32 1187.97,357.63 1190.96,356.97 1193.96,356.34 1196.96,355.76 1199.95,355.21 1202.95,354.66 1205.94,354.12 1208.94,353.57 1211.93,352.99 1214.93,352.37 1217.93,351.7 1220.92,350.97 1223.92,350.15 1226.91,349.22 1229.91,348.2 1232.91,347.12 1235.9,346 1238.9,344.86 1241.89,343.71 1244.89,342.58 1247.89,341.47 1250.88,340.35 1253.88,339.22 1256.87,338.06 1259.87,336.86 1262.87,335.6 1265.86,334.26 1268.86,332.84 1271.85,331.3 1274.85,329.66 1277.84,327.92 1280.84,326.12 1283.84,324.27 1286.83,322.4 1289.83,320.57 1292.82,318.69 1295.82,316.67 1298.82,314.42 1301.81,311.85 1304.81,308.7 1307.8,304.76 1310.8,300.4" fill="none" stroke="#000" stroke-width="3.58" stroke-linecap="square" stroke-linejoin="round"/>
<polyline points="1164,354.7 1310.8,352.3" fill="none" stroke="#20b2aa" stroke-width="3.58" stroke-linecap="square" stroke-linejoin="round"/>
<polygon points="1484.9,398.86 1485.7,398.36 1486.5,398.28 1487.3,398.19 1488.09,398.05 1488.89,398.26 1489.69,397.77 1490.49,397.8 1491.29,397.98 1492.09,397.68 1492.88,397.71 1493.68,397.69 1494.48,397.6 1495.28,397.72 1496.08,397.73 1496.88,397.74 1497.67,397.96 1498.47,397.77 1499.27,397.6 1500.07,397.73 1500.87,397.75 1501.67,397.73 1502.46,397.68 1503.26,397.52 1504.06,397.45 1504.86,397.49 1505.66,397.72 1506.46,397.32 1507.25,396.8 1508.05,397.11 1508.85,396.96 1509.65,396.86 1510.45,397.11 1511.25,397.47 1512.04,396.96 1512.84,396.41 1513.64,396.68 1514.44,396.95 1515.24,396.67 1516.04,396.6 1516.83,396.88 1517.63,397.03 1518.43,396.91 1519.23,396.95 1520.03,397.03 1520.83,397.14 1521.62,397.28 1522.42,397.29 1523.22,397.3 1524.02,397.27 1524.82,397.38 1525.62,397.66 1526.42,397.64 1527.21,397.69 1528.01,398.52 1528.81,398.24 1529.61,397.49 1530.41,397.44 1531.21,397.81 1532,398.04 1532.8,397.58 1533.6,396.8 1534.4,398.04 1535.2,398.26 1536,398.34 1536.79,398.94 1537.59,398.2 1538.39,398.03 1539.19,398.78 1539.99,398.72 1540.79,398.78 1541.58,398.83 1542.38,398.88 1543.18,399.43 1543.98,399.36 1544.78,398.73 1545.58,398.89 1546.37,399.5 1547.17,399.52 1547.97,399.27 1548.77,399.12 1549.57,399.69 1550.37,399.4 1551.16,399 1551.96,399.34 1552.76,399.55 1553.56,399.64 1554.36,399.74 1555.16,399.62 1555.95,399.86 1556.75,400.01 1557.55,399.91 1558.35,400.09 1559.15,400.18 1559.95,400 1560.75,399.98 1561.54,399.74 1562.34,399.89 1563.14,400.12 1563.94,400.26 1564.74,400.34 1565.54,400.39 1566.33,400.57 1567.13,400.87 1567.93,400.56 1568.73,400.51 1569.53,400.65 1570.33,400.82 1571.12,400.9 1571.92,400.76 1572.72,400.73 1573.52,400.84 1574.32,400.97 1575.12,400.87 1575.91,400.51 1576.71,400.73 1577.51,400.96 1578.31,400.91 1579.11,400.78 1579.91,400.73 1580.7,400.92 1581.5,400.7 1582.3,400.59 1583.1,401 1583.9,401.08 1584.7,401.24 1585.49,400.55 1586.29,400.91 1587.09,401.71 1587.89,401.86 1588.69,401.89 1589.49,401.68 1590.28,401.64 1591.08,401.91 1591.88,401.52 1592.68,401.33 1593.48,401.54 1594.28,401.8 1595.08,402.1 1595.87,402.41 1596.67,402.44 1597.47,402.1 1598.27,402.11 1599.07,402.03 1599.87,401.47 1600.66,401.75 1601.46,402.19 1602.26,402.14 1603.06,401.99 1603.86,402.17 1604.66,402.24 1605.45,402.35 1606.25,402.53 1607.05,402.54 1607.85,402.26 1608.65,402.48 1609.45,402.91 1610.24,402.79 1611.04,402.58 1611.84,402.66 1612.64,402.93 1613.44,402.73 1614.24,403.3 1615.03,404.04 1615.83,403.57 1616.63,403.3 1617.43,403.01 1618.23,402.81 1619.03,402.66 1619.82,402.88 1620.62,403.05 1621.42,403.02 1622.22,402.85 1623.02,403.2 1623.82,403.47 1624.61,403.48 1625.41,403.53 1626.21,403.34 1627.01,403.35 1627.81,402.87 1628.61,403.24 1629.4,403.89 1630.2,404.01 1631,403.84 1631.8,404.08 1631.8,413.85 1631,413.67 1630.2,413.84 1629.4,413.98 1628.61,413.84 1627.81,413.8 1627.01,413.8 1626.21,413.66 1625.41,413.47 1624.61,413.5 1623.82,413.52 1623.02,413.59 1622.22,413.82 1621.42,413.78 1620.62,413.6 1619.82,413.54 1619.03,413.7 1618.23,413.82 1617.43,413.53 1616.63,413.65 1615.83,413.82 1615.03,413.89 1614.24,413.87 1613.44,413.35 1612.64,413.81 1611.84,414.1 1611.04,413.81 1610.24,413.69 1609.45,413.58 1608.65,413.63 1607.85,413.88 1607.05,414.39 1606.25,414.15 1605.45,413.93 1604.66,413.8 1603.86,413.75 1603.06,413.92 1602.26,414 1601.46,414.33 1600.66,414.06 1599.87,414.09 1599.07,413.98 1598.27,413.51 1597.47,413.85 1596.67,413.53 1595.87,412.47 1595.08,413.34 1594.28,414.22 1593.48,414.39 1592.68,414.15 1591.88,414.17 1591.08,413.84 1590.28,413.75 1589.49,413.95 1588.69,413.96 1587.89,413.89 1587.09,413.75 1586.29,413.75 1585.49,413.6 1584.7,413.83 1583.9,414.02 1583.1,413.81 1582.3,413.56 1581.5,413.3 1580.7,413.5 1579.91,414.04 1579.11,413.77 1578.31,413.67 1577.51,413.72 1576.71,413.48 1575.91,413.7 1575.12,413.97 1574.32,413.97 1573.52,413.43 1572.72,413.94 1571.92,414.16 1571.12,414.15 1570.33,414.32 1569.53,414.41 1568.73,414.36 1567.93,414.1 1567.13,413.91 1566.33,413.96 1565.54,413.99 1564.74,413.94 1563.94,413.94 1563.14,413.71 1562.34,413.59 1561.54,413.94 1560.75,413.92 1559.95,413.66 1559.15,413.72 1558.35,413.88 1557.55,413.82 1556.75,413.55 1555.95,413.59 1555.16,413.56 1554.36,413.52 1553.56,413.6 1552.76,413.5 1551.96,413.59 1551.16,414.24 1550.37,413.71 1549.57,413.2 1548.77,412.93 1547.97,413.4 1547.17,413.82 1546.37,413.55 1545.58,412.97 1544.78,412.19 1543.98,412.82 1543.18,412.96 1542.38,413.2 1541.58,413.36 1540.79,413.09 1539.99,413.12 1539.19,413.1 1538.39,413.01 1537.59,413.01 1536.79,412.99 1536,412.89 1535.2,412.95 1534.4,412.87 1533.6,412.75 1532.8,412.84 1532,412.9 1531.21,412.61 1530.41,412.47 1529.61,412.66 1528.81,412.26 1528.01,412.24 1527.21,412.23 1526.42,411.83 1525.62,412.11 1524.82,412.08 1524.02,412.1 1523.22,412.18 1522.42,412.02 1521.62,412.62 1520.83,412.84 1520.03,412.56 1519.23,412.28 1518.43,411.94 1517.63,411.81 1516.83,411.8 1516.04,411.87 1515.24,411.52 1514.44,411.51 1513.64,412.01 1512.84,411.8 1512.04,411.24 1511.25,410.81 1510.45,411.04 1509.65,411.43 1508.85,411.53 1508.05,411.58 1507.25,411.68 1506.46,411.66 1505.66,411.77 1504.86,411.94 1504.06,412 1503.26,411.73 1502.46,411.66 1501.67,411.57 1500.87,411.56 1500.07,411.94 1499.27,411.9 1498.47,411.37 1497.67,410.9 1496.88,411.02 1496.08,411.03 1495.28,410.79 1494.48,410.67 1493.68,411.09 1492.88,411.77 1492.09,411 1491.29,410.98 1490.49,411.3 1489.69,410.56 1488.89,409.89 1488.09,410.71 1487.3,410.9 1486.5,410.49 1485.7,410.11 1484.9,410.67" fill="#000" fill-opacity="0.5"/>
<polygon points="1484.9,159.42 1485.7,157.79 1486.5,156.88 1487.3,156.59 1488.09,154.58 1488.89,154.15 1489.69,153.99 1490.49,153.25 1491.29,153.47 1492.09,153.29 1492.88,153.21 1493.68,152.72 1494.48,152.76 1495.28,152.69 1496.08,151.75 1496.88,152.83 1497.67,153.38 1498.47,153.33 1499.27,153.51 1500.07,153.53 1500.87,153.89 1501.67,151.24 1502.46,148.5 1503.26,147.41 1504.06,146.53 1504.86,145.8 1505.66,146.66 1506.46,147.98 1507.25,148.27 1508.05,147.8 1508.85,147.76 1509.65,149.24 1510.45,149.09 1511.25,148.23 1512.04,152.9 1512.84,151.98 1513.64,147.77 1514.44,146.29 1515.24,143.94 1516.04,147.17 1516.83,148.56 1517.63,145.44 1518.43,143.96 1519.23,142.74 1520.03,142.21 1520.83,141.58 1521.62,140.9 1522.42,141.63 1523.22,140.59 1524.02,138.33 1524.82,136.94 1525.62,136.23 1526.42,133.64 1527.21,129.96 1528.01,129.18 1528.81,128.36 1529.61,129.15 1530.41,129.29 1531.21,128.12 1532,128.61 1532.8,128.68 1533.6,128.35 1534.4,128.45 1535.2,128.26 1536,127.53 1536.79,128.65 1537.59,128.99 1538.39,129.45 1539.19,130.52 1539.99,130.38 1540.79,130.6 1541.58,132.19 1542.38,133.36 1543.18,133.18 1543.98,133.76 1544.78,134.68 1545.58,135.99 1546.37,136.18 1547.17,136.96 1547.97,136.17 1548.77,135.6 1549.57,136.1 1550.37,136.63 1551.16,136.67 1551.96,138.52 1552.76,140.51 1553.56,139.25 1554.36,139.51 1555.16,141.05 1555.95,141.54 1556.75,141.76 1557.55,142.63 1558.35,143.87 1559.15,146.93 1559.95,145.93 1560.75,145.7 1561.54,147.03 1562.34,149.63 1563.14,150.49 1563.94,150.78 1564.74,153.87 1565.54,154.92 1566.33,157.2 1567.13,156.85 1567.93,155.47 1568.73,156.53 1569.53,155.5 1570.33,152.13 1571.12,152.49 1571.92,154.47 1572.72,154.29 1573.52,153.91 1574.32,154.64 1575.12,155.1 1575.91,154.38 1576.71,154.67 1577.51,154.14 1578.31,153.97 1579.11,154.01 1579.91,154.39 1580.7,155.47 1581.5,153.58 1582.3,153.56 1583.1,154.51 1583.9,154.06 1584.7,153.36 1585.49,152.05 1586.29,151.31 1587.09,152.48 1587.89,154.37 1588.69,152.02 1589.49,150.21 1590.28,149.45 1591.08,148.74 1591.88,150.98 1592.68,150.39 1593.48,149.5 1594.28,150.54 1595.08,147.78 1595.87,146.14 1596.67,146.97 1597.47,146.97 1598.27,147.47 1599.07,148.14 1599.87,147.31 1600.66,145.39 1601.46,146.28 1602.26,150.65 1603.06,148.16 1603.86,147.32 1604.66,148.6 1605.45,148.77 1606.25,148.53 1607.05,148.81 1607.85,149.55 1608.65,148.73 1609.45,147.8 1610.24,149.54 1611.04,151.16 1611.84,148.11 1612.64,147.44 1613.44,148.53 1614.24,150.2 1615.03,150.79 1615.83,150.41 1616.63,149.96 1617.43,151.34 1618.23,152.35 1619.03,152.74 1619.82,153.78 1620.62,152.88 1621.42,151.79 1622.22,150.69 1623.02,150.52 1623.82,152.29 1624.61,152.33 1625.41,151.87 1626.21,151.51 1627.01,150.93 1627.81,149.19 1628.61,149.36 1629.4,150.34 1630.2,149.93 1631,152.53 1631.8,150.62 1631.8,258.12 1631,259.22 1630.2,260.35 1629.4,261.47 1628.61,260.74 1627.81,260 1627.01,259.31 1626.21,257.61 1625.41,256.1 1624.61,254.12 1623.82,254.39 1623.02,253.89 1622.22,254.68 1621.42,255.05 1620.62,255.88 1619.82,255.89 1619.03,254.74 1618.23,256.64 1617.43,257.19 1616.63,256.87 1615.83,257.56 1615.03,257.24 1614.24,257 1613.44,258.65 1612.64,259.95 1611.84,259.72 1611.04,258.85 1610.24,258.06 1609.45,257.6 1608.65,258.12 1607.85,256.78 1607.05,255.59 1606.25,256.72 1605.45,256.77 1604.66,258.01 1603.86,259 1603.06,260.35 1602.26,260.42 1601.46,260.37 1600.66,261.16 1599.87,261.64 1599.07,261.53 1598.27,261.29 1597.47,260.87 1596.67,259.72 1595.87,260.13 1595.08,258.76 1594.28,257.99 1593.48,259.52 1592.68,259.3 1591.88,258.77 1591.08,260.26 1590.28,260.27 1589.49,260.74 1588.69,263.14 1587.89,261.83 1587.09,261.53 1586.29,261.32 1585.49,260.53 1584.7,258.53 1583.9,257.73 1583.1,256.92 1582.3,254.85 1581.5,254.77 1580.7,255.07 1579.91,253.59 1579.11,253.77 1578.31,254.5 1577.51,253.13 1576.71,252.01 1575.91,250.97 1575.12,249.79 1574.32,248.67 1573.52,248.24 1572.72,249.9 1571.92,250.35 1571.12,250.93 1570.33,253.71 1569.53,253.64 1568.73,253.21 1567.93,253.47 1567.13,251.94 1566.33,254.27 1565.54,254.59 1564.74,250.95 1563.94,250.35 1563.14,251.05 1562.34,252.34 1561.54,250.76 1560.75,252.18 1559.95,253.62 1559.15,254.08 1558.35,259.28 1557.55,259.02 1556.75,256.74 1555.95,259.1 1555.16,259.45 1554.36,257.81 1553.56,258.26 1552.76,259.37 1551.96,259.76 1551.16,261.54 1550.37,259.5 1549.57,258.73 1548.77,257.35 1547.97,255.21 1547.17,256.49 1546.37,256.3 1545.58,254.74 1544.78,254.91 1543.98,255.8 1543.18,256.36 1542.38,256.85 1541.58,258.38 1540.79,259.88 1539.99,259.47 1539.19,257.84 1538.39,258.47 1537.59,259.22 1536.79,258.62 1536,259.63 1535.2,258.77 1534.4,257.71 1533.6,257.1 1532.8,256.91 1532,258.11 1531.21,259.98 1530.41,257.24 1529.61,255.1 1528.81,255.77 1528.01,258.03 1527.21,256.7 1526.42,254.54 1525.62,252.25 1524.82,252.48 1524.02,253.6 1523.22,255.81 1522.42,257.12 1521.62,256.78 1520.83,257 1520.03,258.76 1519.23,257.29 1518.43,256.53 1517.63,256.8 1516.83,257.57 1516.04,258.44 1515.24,257.88 1514.44,258.74 1513.64,259.6 1512.84,256.99 1512.04,257.05 1511.25,260.05 1510.45,260.45 1509.65,259.43 1508.85,258.95 1508.05,257.39 1507.25,256.7 1506.46,257.22 1505.66,258.46 1504.86,258.77 1504.06,256.78 1503.26,258.25 1502.46,262.31 1501.67,259.69 1500.87,258.23 1500.07,258.96 1499.27,259.37 1498.47,258.55 1497.67,257.59 1496.88,259.12 1496.08,259.08 1495.28,259.25 1494.48,258.8 1493.68,259.05 1492.88,259.59 1492.09,257.58 1491.29,257.47 1490.49,259.64 1489.69,256.96 1488.89,255.69 1488.09,255.84 1487.3,256.58 1486.5,257.99 1485.7,256.27 1484.9,254.48" fill="#20b2aa" fill-opacity="0.5"/>
<polyline points="1484.9,404.6 1631.8,408.8" fill="none" stroke="#000" stroke-width="3.58" stroke-linecap="square" stroke-linejoin="round"/>
<polyline points="1484.9,214.3 1487.9,213.64 1490.9,213.02 1493.89,212.45 1496.89,211.93 1499.89,211.48 1502.89,211.09 1505.89,210.75 1508.88,210.44 1511.88,210.17 1514.88,209.92 1517.88,209.71 1520.88,209.52 1523.87,209.35 1526.87,209.2 1529.87,209.06 1532.87,208.93 1535.87,208.8 1538.86,208.66 1541.86,208.51 1544.86,208.39 1547.86,208.27 1550.86,208.16 1553.85,208.04 1556.85,207.9 1559.85,207.73 1562.85,207.52 1565.84,207.18 1568.84,206.48 1571.84,205.84 1574.84,205.74 1577.84,206.1 1580.83,206.66 1583.83,207.22 1586.83,207.66 1589.83,208.14 1592.83,208.6 1595.82,208.95 1598.82,209.1 1601.82,208.82 1604.82,208.07 1607.82,207.17 1610.81,206.41 1613.81,205.6 1616.81,204.85 1619.81,204.5 1622.81,204.68 1625.8,205.16 1628.8,206.21 1631.8,208" fill="none" stroke="#20b2aa" stroke-width="3.58" stroke-linecap="square" stroke-linejoin="round"/>
<rect x="1017.2" y="88" width="707.34" height="351.06" fill="none" stroke="#000" stroke-width="1.79"/>
<path d="M1017.2 439.06v6.35M1174.39 439.06v6.35M1331.57 439.06v6.35M1488.76 439.06v6.35M1645.95 439.06v6.35M1017.2 400.05h-6.35M1017.2 322.04h-6.35M1017.2 244.03h-6.35M1017.2 166.01h-6.35M1017.2 88h-6.35" stroke="#000" stroke-width="1.79" fill="none"/>
<g font-size="34.29" stroke="#000">
<text x="1017.2" y="477.65" text-anchor="middle">0</text>
<text x="1174.39" y="477.65" text-anchor="middle">200</text>
<text x="1331.57" y="477.65" text-anchor="middle">400</text>
<text x="1488.76" y="477.65" text-anchor="middle">600</text>
<text x="1645.95" y="477.65" text-anchor="middle">800</text>
<text x="1005.74" y="413.15" text-anchor="end">0.2</text>
<text x="1005.74" y="335.14" text-anchor="end">0.4</text>
<text x="1005.74" y="257.13" text-anchor="end">0.6</text>
<text x="1005.74" y="179.11" text-anchor="end">0.8</text>
<text x="1005.74" y="101.1" text-anchor="end">1.0</text>
</g>
<text x="1370.56" y="515.11" font-size="34.29" text-anchor="middle" font-style="italic" stroke="#000">t</text>
<text x="937.78" y="263.53" font-size="34.29" text-anchor="middle" transform="rotate(-90 937.78 263.53)" stroke="#000">Variance</text>
<text x="1017.2" y="82.68" font-size="30.81" stroke="#000">1e−4</text>
<text x="903.08" y="81.45" font-size="34.29" stroke="#000">(<tspan font-style="italic">d</tspan>)</text>
<text stroke="#000"><tspan x="1040.74" y="118.6" font-size="25.59" font-style="italic">τ</tspan><tspan x="1056.14" y="122.59" font-size="17.91" font-style="italic">X</tspan><tspan x="1068.27" y="125.56" font-size="12.54">1</tspan><tspan x="1077.07" y="118.6" font-size="25.59"> = 0.808</tspan></text>
<text fill="#20b2aa" stroke="#20b2aa"><tspan x="1040.74" y="151.87" font-size="25.59" font-style="italic">τ</tspan><tspan x="1056.14" y="155.86" font-size="17.91" font-style="italic">X</tspan><tspan x="1068.27" y="158.83" font-size="12.54">2</tspan><tspan x="1077.07" y="151.87" font-size="25.59"> = 0.089</tspan></text>
<text x="1040.74" y="185.13" font-size="25.59" fill="#ff6666" stroke="#ff6666">pre-tipping time span</text>
<text stroke="#000"><tspan x="1410.02" y="118.6" font-size="25.59" font-style="italic">τ</tspan><tspan x="1425.42" y="122.59" font-size="17.91" font-style="italic">X</tspan><tspan x="1437.55" y="125.56" font-size="12.54">1</tspan><tspan x="1446.35" y="118.6" font-size="25.59"> = -0.294</tspan></text>
<text fill="#20b2aa" stroke="#20b2aa"><tspan x="1410.02" y="151.87" font-size="25.59" font-style="italic">τ</tspan><tspan x="1425.42" y="155.86" font-size="17.91" font-style="italic">X</tspan><tspan x="1437.55" y="158.83" font-size="12.54">2</tspan><tspan x="1446.35" y="151.87" font-size="25.59"> = 0.064</tspan></text>
<text x="1410.02" y="311.43" font-size="25.59" fill="#ff1919" stroke="#ff1919">intermediate time span</text>
<text fill="#808080" stroke="#808080"><tspan x="1331.62" y="387.27" font-size="25.59" font-style="italic">c</tspan><tspan x="1345.74" y="391.16" font-size="17.91">1</tspan><tspan x="1357.41" y="393.62" font-size="12.54" font-style="italic">crit</tspan><tspan x="1378.65" y="387.27" font-size="25.59"> reached</tspan></text>
<line x1="1038.08" y1="402.21" x2="1093.04" y2="402.21" stroke="#000" stroke-width="3.58"/>
<text stroke="#000"><tspan x="1111.36" y="411.12" font-size="25.59" font-style="italic">X</tspan><tspan x="1129.38" y="415.32" font-size="17.91">1</tspan></text>
<line x1="1190.99" y1="402.21" x2="1245.75" y2="402.21" stroke="#20b2aa" stroke-width="3.58"/>
<text stroke="#000"><tspan x="1263.97" y="411.12" font-size="25.59" font-style="italic">X</tspan><tspan x="1281.98" y="415.32" font-size="17.91">2</tspan></text>
<rect x="1155.99" y="1033.78" width="162.43" height="7.68" fill="#ff6666"/>
<line x1="1319.58" y1="1041.46" x2="1319.58" y2="690.4" stroke="#949494" stroke-width="2.61" stroke-dasharray="9.11 4.4"/>
<polygon points="1163.8,946.31 1164.6,946.24 1165.4,946.41 1166.2,946.5 1167,945.66 1167.8,945.04 1168.6,944.45 1169.4,943.95 1170.2,943.76 1171,944 1171.8,944.12 1172.6,942.3 1173.4,941.19 1174.2,942.15 1175,942.66 1175.8,941.29 1176.6,940.56 1177.4,941.58 1178.2,941.21 1179,940.56 1179.8,940.69 1180.6,940.35 1181.4,940.5 1182.2,940.74 1183,940.2 1183.8,939.78 1184.6,939.63 1185.4,939.45 1186.2,938.74 1187,938.66 1187.8,938.32 1188.6,938.04 1189.4,939.26 1190.2,939.03 1191,937.8 1191.8,937.95 1192.6,937.97 1193.4,937.84 1194.2,937.59 1195,936.83 1195.8,936.31 1196.6,935.84 1197.4,936.39 1198.2,937.04 1199,936.93 1199.8,936.23 1200.6,934.44 1201.4,935.41 1202.2,935.81 1203,935.07 1203.8,935.01 1204.6,934.59 1205.4,933.64 1206.2,934.54 1207,934.9 1207.8,934.8 1208.6,934.61 1209.4,934.23 1210.2,934.16 1211,934.01 1211.8,933.89 1212.6,933.8 1213.4,932.62 1214.2,932.79 1215,934.13 1215.8,934.71 1216.6,933.42 1217.4,932.97 1218.2,933.02 1219,933.59 1219.8,934.49 1220.6,932.96 1221.4,932.1 1222.2,932.09 1223,931.98 1223.8,932.32 1224.6,931.81 1225.4,930.23 1226.2,930.38 1227,930.47 1227.8,931.12 1228.6,930.85 1229.4,930.69 1230.2,931.55 1231,930.96 1231.8,930.5 1232.6,930.09 1233.4,929.47 1234.2,929.09 1235,928.95 1235.8,928.93 1236.6,928.5 1237.4,928.57 1238.2,928.55 1239,927.54 1239.8,927.03 1240.6,926.7 1241.4,926.04 1242.2,925.85 1243,925.63 1243.8,925.28 1244.6,924.88 1245.4,925.02 1246.2,925.21 1247,923.87 1247.8,923.7 1248.6,924.14 1249.4,923.99 1250.2,924.16 1251,924.13 1251.8,922.83 1252.6,921.78 1253.4,921.07 1254.2,919.92 1255,918.46 1255.8,918.2 1256.6,918.45 1257.4,917.5 1258.2,916.68 1259,916.18 1259.8,915.51 1260.6,914.91 1261.4,914.36 1262.2,913.92 1263,913.73 1263.8,914.63 1264.6,914.5 1265.4,912.77 1266.2,911.15 1267,911.03 1267.8,910.84 1268.6,910.18 1269.4,910.29 1270.2,909.24 1271,908.14 1271.8,908.73 1272.6,908.51 1273.4,908.21 1274.2,907.42 1275,906.16 1275.8,904.39 1276.6,902.44 1277.4,900.86 1278.2,900.33 1279,899.03 1279.8,898.68 1280.6,897.78 1281.4,895.21 1282.2,896.4 1283,896.53 1283.8,895.22 1284.6,895.03 1285.4,895.07 1286.2,893.89 1287,893.19 1287.8,892.87 1288.6,892.02 1289.4,891.34 1290.2,891.91 1291,891.68 1291.8,890.14 1292.6,890.25 1293.4,889.51 1294.2,888.55 1295,887.85 1295.8,883.8 1296.6,878.08 1297.4,872.57 1298.2,869.99 1299,870.48 1299.8,871.57 1300.6,871.75 1301.4,871.06 1302.2,870.31 1303,870.11 1303.8,870.2 1304.6,870.65 1305.4,871.72 1306.2,870.9 1307,870 1307.8,869.13 1308.6,868.34 1309.4,866.64 1310.2,865.27 1310.2,928.27 1309.4,928.1 1308.6,927.85 1307.8,929.06 1307,929.79 1306.2,929.69 1305.4,930.52 1304.6,931.99 1303.8,932.93 1303,932.59 1302.2,932.21 1301.4,932.48 1300.6,934.15 1299.8,935.1 1299,935.56 1298.2,936.47 1297.4,936.33 1296.6,936.51 1295.8,937 1295,937.34 1294.2,937.6 1293.4,938.41 1292.6,939.09 1291.8,939.19 1291,940.16 1290.2,941.71 1289.4,941.11 1288.6,942.02 1287.8,942.88 1287,942.06 1286.2,942.38 1285.4,942.36 1284.6,943.19 1283.8,944.01 1283,944.08 1282.2,944.77 1281.4,945.56 1280.6,946.37 1279.8,946.64 1279,946.93 1278.2,947.32 1277.4,947.38 1276.6,948 1275.8,948.8 1275,949.28 1274.2,951.1 1273.4,951.13 1272.6,950.15 1271.8,950.6 1271,951.08 1270.2,951.22 1269.4,951.46 1268.6,951.57 1267.8,952.33 1267,952.62 1266.2,953.63 1265.4,954.1 1264.6,953.89 1263.8,954.37 1263,955.26 1262.2,956.22 1261.4,956.16 1260.6,956.49 1259.8,956.8 1259,957.27 1258.2,957.69 1257.4,957.85 1256.6,958.39 1255.8,958.29 1255,958.33 1254.2,957.51 1253.4,957.27 1252.6,958.87 1251.8,959.02 1251,958.78 1250.2,959.09 1249.4,959.52 1248.6,959.83 1247.8,960.29 1247,960.51 1246.2,962.09 1245.4,961.68 1244.6,961.19 1243.8,961.08 1243,960.79 1242.2,962.17 1241.4,962.54 1240.6,962.78 1239.8,962.7 1239,962.23 1238.2,963.36 1237.4,966.03 1236.6,964.27 1235.8,963.56 1235,963.98 1234.2,965.5 1233.4,965.47 1232.6,964.4 1231.8,964.1 1231,965.04 1230.2,965.89 1229.4,965.38 1228.6,965.98 1227.8,966.71 1227,966.31 1226.2,967.38 1225.4,967.08 1224.6,966.16 1223.8,966.95 1223,967.84 1222.2,966.84 1221.4,966.22 1220.6,967.56 1219.8,968.71 1219,969.82 1218.2,968.28 1217.4,967.22 1216.6,968.95 1215.8,968.88 1215,969.02 1214.2,969.38 1213.4,969.14 1212.6,969.67 1211.8,970.01 1211,970.02 1210.2,970.4 1209.4,970.34 1208.6,970.63 1207.8,970.94 1207,970.96 1206.2,970.86 1205.4,970.73 1204.6,971.08 1203.8,970.21 1203,970.01 1202.2,971.61 1201.4,972.6 1200.6,971.78 1199.8,971.68 1199,971.61 1198.2,971.92 1197.4,972.59 1196.6,972.57 1195.8,972.7 1195,972.7 1194.2,972.65 1193.4,972.93 1192.6,973.13 1191.8,973.56 1191,974.71 1190.2,974.64 1189.4,974.82 1188.6,974.88 1187.8,975.48 1187,974.75 1186.2,973.36 1185.4,974.85 1184.6,975.68 1183.8,975.37 1183,975.16 1182.2,975.5 1181.4,975.68 1180.6,975.32 1179.8,975.25 1179,975.58 1178.2,975.45 1177.4,975.68 1176.6,976.2 1175.8,976.38 1175,976.54 1174.2,976.61 1173.4,977.37 1172.6,978.42 1171.8,977.59 1171,977.51 1170.2,978.47 1169.4,978.57 1168.6,977.77 1167.8,977.93 1167,978.81 1166.2,978.3 1165.4,978.68 1164.6,980.34 1163.8,980.05" fill="#000" fill-opacity="0.5"/>
<polygon points="1163.8,933.3 1164.6,933.17 1165.4,933.73 1166.2,934.5 1167,933.55 1167.8,932.91 1168.6,932.73 1169.4,933.63 1170.2,933.24 1171,933.17 1171.8,933.63 1172.6,933.26 1173.4,933.01 1174.2,932.84 1175,932.25 1175.8,931.79 1176.6,932.31 1177.4,932.43 1178.2,932.51 1179,932.16 1179.8,932.54 1180.6,932.88 1181.4,932.75 1182.2,932.82 1183,932.56 1183.8,932.39 1184.6,932.63 1185.4,931.98 1186.2,931.88 1187,931.85 1187.8,931.64 1188.6,931.49 1189.4,931.56 1190.2,931.8 1191,930.43 1191.8,929.51 1192.6,930.23 1193.4,930.49 1194.2,930.98 1195,931.09 1195.8,930.48 1196.6,929.27 1197.4,930.32 1198.2,931.02 1199,931.18 1199.8,931.48 1200.6,931.28 1201.4,931.57 1202.2,931.58 1203,931.26 1203.8,931.01 1204.6,931.07 1205.4,931.84 1206.2,931.3 1207,930.38 1207.8,930.7 1208.6,931.37 1209.4,931.58 1210.2,931.24 1211,931.43 1211.8,931.63 1212.6,931.64 1213.4,931.38 1214.2,930.5 1215,931.48 1215.8,931.9 1216.6,931.98 1217.4,933.05 1218.2,933.19 1219,932.15 1219.8,932.13 1220.6,932.44 1221.4,932.6 1222.2,933.09 1223,933.01 1223.8,933 1224.6,933.12 1225.4,933.05 1226.2,933.2 1227,932.92 1227.8,932.96 1228.6,933.58 1229.4,932.85 1230.2,932.7 1231,933.12 1231.8,932.74 1232.6,932.5 1233.4,933.76 1234.2,934.34 1235,933.86 1235.8,933.68 1236.6,933.78 1237.4,933.28 1238.2,933.16 1239,933.17 1239.8,932.7 1240.6,932.57 1241.4,932.94 1242.2,933.16 1243,933.22 1243.8,933.35 1244.6,933.7 1245.4,934.56 1246.2,933.71 1247,932.81 1247.8,932.44 1248.6,933.27 1249.4,933.24 1250.2,932.59 1251,933.16 1251.8,933.78 1252.6,933.83 1253.4,933.37 1254.2,933.44 1255,933.17 1255.8,932.43 1256.6,933.7 1257.4,934.64 1258.2,934.69 1259,934.6 1259.8,934.51 1260.6,934.43 1261.4,934.89 1262.2,934.51 1263,934.3 1263.8,934.52 1264.6,933.74 1265.4,934 1266.2,934.26 1267,934.26 1267.8,934.48 1268.6,935.33 1269.4,934.85 1270.2,933.41 1271,933.96 1271.8,934.74 1272.6,934.66 1273.4,934.52 1274.2,934.86 1275,935.33 1275.8,935.22 1276.6,935.37 1277.4,935.58 1278.2,935.43 1279,935.15 1279.8,934.8 1280.6,935.26 1281.4,935.79 1282.2,935.95 1283,935.27 1283.8,934.92 1284.6,934.64 1285.4,934.33 1286.2,934.45 1287,934.77 1287.8,935.35 1288.6,935.05 1289.4,934.8 1290.2,934.5 1291,934.2 1291.8,934.44 1292.6,934.34 1293.4,934.13 1294.2,933.7 1295,933.71 1295.8,933.86 1296.6,933.25 1297.4,933.19 1298.2,931.52 1299,930.98 1299.8,933.03 1300.6,932.62 1301.4,931.97 1302.2,931.49 1303,930.18 1303.8,930.11 1304.6,931.22 1305.4,931.11 1306.2,930.65 1307,930.87 1307.8,930.68 1308.6,930.28 1309.4,929.43 1310.2,929.56 1310.2,967.84 1309.4,968.07 1308.6,967.53 1307.8,967.33 1307,967.28 1306.2,967.3 1305.4,967.23 1304.6,968.23 1303.8,969.34 1303,967.25 1302.2,967.25 1301.4,967.44 1300.6,967.21 1299.8,967.07 1299,966.3 1298.2,967.36 1297.4,967.47 1296.6,966.55 1295.8,967.5 1295,967.98 1294.2,968.11 1293.4,968.01 1292.6,967.48 1291.8,966.6 1291,966.66 1290.2,966.98 1289.4,967.12 1288.6,966.7 1287.8,966.06 1287,966.8 1286.2,966.54 1285.4,965.45 1284.6,965.72 1283.8,966.18 1283,965.42 1282.2,966.33 1281.4,967.37 1280.6,966.66 1279.8,966.25 1279,964.94 1278.2,965.31 1277.4,966.02 1276.6,965.6 1275.8,965.59 1275,965.72 1274.2,965.8 1273.4,965.9 1272.6,965.91 1271.8,965.64 1271,965.86 1270.2,965.74 1269.4,965.11 1268.6,964.82 1267.8,964.65 1267,964.11 1266.2,963.96 1265.4,964.28 1264.6,963.95 1263.8,963.65 1263,963.33 1262.2,963.98 1261.4,964.29 1260.6,964.08 1259.8,964.44 1259,965.07 1258.2,965.02 1257.4,965.19 1256.6,966.3 1255.8,966.01 1255,965.59 1254.2,965.42 1253.4,965.6 1252.6,965.68 1251.8,965.69 1251,965.41 1250.2,964.93 1249.4,965.59 1248.6,965.97 1247.8,965.92 1247,966.29 1246.2,966.9 1245.4,965.95 1244.6,966.52 1243.8,966.66 1243,965.96 1242.2,966.83 1241.4,966.94 1240.6,966.86 1239.8,967.05 1239,967.08 1238.2,966.46 1237.4,966.41 1236.6,967.06 1235.8,966.75 1235,966.25 1234.2,966.46 1233.4,966.65 1232.6,966.87 1231.8,966.67 1231,966.77 1230.2,966.62 1229.4,966.7 1228.6,967.6 1227.8,966.88 1227,966.58 1226.2,967.02 1225.4,966.67 1224.6,966.36 1223.8,966.47 1223,966.67 1222.2,967.27 1221.4,967.19 1220.6,966.95 1219.8,966.9 1219,967.26 1218.2,967.7 1217.4,967.32 1216.6,967.18 1215.8,968.15 1215,967.83 1214.2,968.04 1213.4,968.25 1212.6,966.5 1211.8,966.68 1211,968.41 1210.2,967.91 1209.4,967.86 1208.6,968.06 1207.8,968.04 1207,968.83 1206.2,969.14 1205.4,968.87 1204.6,968.52 1203.8,968.37 1203,968.94 1202.2,968.35 1201.4,968.14 1200.6,968.27 1199.8,967.62 1199,968.36 1198.2,968.63 1197.4,968.69 1196.6,968.91 1195.8,968.78 1195,968.8 1194.2,969.92 1193.4,970.28 1192.6,969.68 1191.8,970.21 1191,969.06 1190.2,968.69 1189.4,968.54 1188.6,968.83 1187.8,969.36 1187,969.27 1186.2,969.7 1185.4,969.86 1184.6,969.49 1183.8,969.69 1183,969.94 1182.2,969.81 1181.4,969.75 1180.6,969.48 1179.8,968.72 1179,969.06 1178.2,969.15 1177.4,969.08 1176.6,970.07 1175.8,969.64 1175,969.18 1174.2,968.46 1173.4,969.15 1172.6,969.5 1171.8,969.47 1171,970.32 1170.2,970.67 1169.4,970.88 1168.6,970.61 1167.8,970.54 1167,971.22 1166.2,971.04 1165.4,970.66 1164.6,970.62 1163.8,971.1" fill="#20b2aa" fill-opacity="0.5"/>
<polyline points="1163.8,965.4 1166.79,964.51 1169.78,963.64 1172.76,962.78 1175.75,961.93 1178.74,961.1 1181.73,960.29 1184.71,959.49 1187.7,958.7 1190.69,957.93 1193.68,957.17 1196.67,956.43 1199.65,955.71 1202.64,955.04 1205.63,954.4 1208.62,953.79 1211.6,953.17 1214.59,952.52 1217.58,951.83 1220.57,951.07 1223.56,950.23 1226.54,949.31 1229.53,948.33 1232.52,947.28 1235.51,946.19 1238.49,945.06 1241.48,943.91 1244.47,942.73 1247.46,941.53 1250.44,940.29 1253.43,939 1256.42,937.67 1259.41,936.29 1262.4,934.87 1265.38,933.38 1268.37,931.84 1271.36,930.22 1274.35,928.51 1277.33,926.72 1280.32,924.86 1283.31,922.94 1286.3,920.98 1289.29,919.04 1292.27,917.06 1295.26,914.95 1298.25,912.66 1301.24,910.09 1304.22,907.08 1307.21,903.39 1310.2,899.3" fill="none" stroke="#000" stroke-width="3.58" stroke-linecap="square" stroke-linejoin="round"/>
<polyline points="1163.8,953 1310.2,950.6" fill="none" stroke="#20b2aa" stroke-width="3.58" stroke-linecap="square" stroke-linejoin="round"/>
<rect x="1017" y="690.4" width="707.34" height="351.06" fill="none" stroke="#000" stroke-width="1.79"/>
<path d="M1017 1041.46v6.35M1174.19 1041.46v6.35M1331.37 1041.46v6.35M1488.56 1041.46v6.35M1645.75 1041.46v6.35M1017 1002.45h-6.35M1017 924.44h-6.35M1017 846.43h-6.35M1017 768.41h-6.35M1017 690.4h-6.35" stroke="#000" stroke-width="1.79" fill="none"/>
<g font-size="34.29" stroke="#000">
<text x="1017" y="1080.05" text-anchor="middle">0</text>
<text x="1174.19" y="1080.05" text-anchor="middle">200</text>
<text x="1331.37" y="1080.05" text-anchor="middle">400</text>
<text x="1488.56" y="1080.05" text-anchor="middle">600</text>
<text x="1645.75" y="1080.05" text-anchor="middle">800</text>
<text x="1005.54" y="1015.55" text-anchor="end">0.2</text>
<text x="1005.54" y="937.54" text-anchor="end">0.4</text>
<text x="1005.54" y="859.53" text-anchor="end">0.6</text>
<text x="1005.54" y="781.51" text-anchor="end">0.8</text>
<text x="1005.54" y="703.5" text-anchor="end">1.0</text>
</g>
<text x="1370.36" y="1117.51" font-size="34.29" text-anchor="middle" font-style="italic" stroke="#000">t</text>
<text x="937.58" y="865.93" font-size="34.29" text-anchor="middle" transform="rotate(-90 937.58 865.93)" stroke="#000">Variance</text>
<text x="1017" y="685.08" font-size="30.81" stroke="#000">1e−4</text>
<text x="902.88" y="683.85" font-size="34.29" stroke="#000">(<tspan font-style="italic">e</tspan>)</text>
<text stroke="#000"><tspan x="1040.54" y="720.7" font-size="25.59" font-style="italic">τ</tspan><tspan x="1055.94" y="724.69" font-size="17.91" font-style="italic">X</tspan><tspan x="1068.07" y="727.66" font-size="12.54">1</tspan><tspan x="1076.87" y="720.7" font-size="25.59"> = 0.834</tspan></text>
<text fill="#20b2aa" stroke="#20b2aa"><tspan x="1040.54" y="753.97" font-size="25.59" font-style="italic">τ</tspan><tspan x="1055.94" y="757.96" font-size="17.91" font-style="italic">X</tspan><tspan x="1068.07" y="760.93" font-size="12.54">2</tspan><tspan x="1076.87" y="753.97" font-size="25.59"> = 0.086</tspan></text>
<text x="1040.54" y="787.53" font-size="25.59" fill="#ff6666" stroke="#ff6666">pre-tipping time span</text>
<text fill="#808080" stroke="#808080"><tspan x="1331.42" y="989.67" font-size="25.59" font-style="italic">c</tspan><tspan x="1345.54" y="993.56" font-size="17.91">1</tspan><tspan x="1357.21" y="996.02" font-size="12.54" font-style="italic">crit</tspan><tspan x="1378.45" y="989.67" font-size="25.59"> reached</tspan></text>
<line x1="1037.88" y1="1004.61" x2="1092.84" y2="1004.61" stroke="#000" stroke-width="3.58"/>
<text stroke="#000"><tspan x="1111.16" y="1013.52" font-size="25.59" font-style="italic">X</tspan><tspan x="1129.18" y="1017.72" font-size="17.91">1</tspan></text>
<line x1="1190.79" y1="1004.61" x2="1245.55" y2="1004.61" stroke="#20b2aa" stroke-width="3.58"/>
<text stroke="#000"><tspan x="1263.77" y="1013.52" font-size="25.59" font-style="italic">X</tspan><tspan x="1281.78" y="1017.72" font-size="17.91">2</tspan></text>
<rect x="1150.7" y="1652.3" width="149" height="7.5" fill="#ff6666"/>
<line x1="1319.74" y1="1659.8" x2="1319.74" y2="1316.8" stroke="#949494" stroke-width="2.55" stroke-dasharray="8.9 4.3"/>
<polygon points="1158.1,1567.86 1158.9,1566.43 1159.7,1566.25 1160.5,1567.03 1161.3,1566.53 1162.09,1566.99 1162.89,1566.8 1163.69,1566.95 1164.49,1567.72 1165.29,1567.94 1166.09,1566.95 1166.89,1566.14 1167.69,1565.99 1168.48,1566.29 1169.28,1565.15 1170.08,1564.41 1170.88,1564.05 1171.68,1563.82 1172.48,1563.36 1173.28,1561.3 1174.08,1561.84 1174.88,1562.98 1175.67,1562.49 1176.47,1562.17 1177.27,1561.78 1178.07,1560.77 1178.87,1560.8 1179.67,1560.91 1180.47,1559.95 1181.27,1560.52 1182.06,1560.67 1182.86,1558.36 1183.66,1558.65 1184.46,1559.83 1185.26,1559.38 1186.06,1558.99 1186.86,1559.15 1187.66,1559.34 1188.45,1559.17 1189.25,1559.15 1190.05,1558.06 1190.85,1557.88 1191.65,1560.22 1192.45,1558.4 1193.25,1556.55 1194.05,1556.39 1194.85,1556.6 1195.64,1555.53 1196.44,1555.31 1197.24,1555.34 1198.04,1554.95 1198.84,1555.07 1199.64,1555.23 1200.44,1554.8 1201.24,1554.54 1202.03,1554.96 1202.83,1554.55 1203.63,1554.38 1204.43,1553.83 1205.23,1552.08 1206.03,1551.92 1206.83,1552.7 1207.63,1552.51 1208.42,1551.58 1209.22,1550.29 1210.02,1550.85 1210.82,1551.22 1211.62,1550.93 1212.42,1550.95 1213.22,1551.14 1214.02,1550.44 1214.82,1550.12 1215.61,1549.21 1216.41,1549.56 1217.21,1549.96 1218.01,1549.85 1218.81,1550.76 1219.61,1550.22 1220.41,1547.92 1221.21,1545.08 1222,1541.61 1222.8,1540.75 1223.6,1540.87 1224.4,1539.94 1225.2,1539.75 1226,1540.55 1226.8,1540.51 1227.6,1540.15 1228.4,1539.85 1229.19,1539.74 1229.99,1539.05 1230.79,1538.59 1231.59,1538.23 1232.39,1537.85 1233.19,1538.38 1233.99,1537.8 1234.79,1537.62 1235.58,1538.41 1236.38,1537.15 1237.18,1535.25 1237.98,1535.85 1238.78,1536.67 1239.58,1536.36 1240.38,1536.04 1241.18,1535.72 1241.97,1534.55 1242.77,1534.62 1243.57,1535.11 1244.37,1534.52 1245.17,1534.06 1245.97,1533.23 1246.77,1533.54 1247.57,1534.69 1248.37,1533.78 1249.16,1532.06 1249.96,1530.57 1250.76,1531.15 1251.56,1530.39 1252.36,1529 1253.16,1528.1 1253.96,1527.62 1254.76,1526.78 1255.55,1526.33 1256.35,1527.16 1257.15,1527.45 1257.95,1525.44 1258.75,1525.07 1259.55,1525.47 1260.35,1524.68 1261.15,1524.25 1261.95,1523.79 1262.74,1523.26 1263.54,1522.55 1264.34,1521.95 1265.14,1521.37 1265.94,1521.38 1266.74,1521.34 1267.54,1520.63 1268.34,1520.57 1269.13,1520.69 1269.93,1519.3 1270.73,1518.12 1271.53,1516.15 1272.33,1514.17 1273.13,1514.29 1273.93,1513.89 1274.73,1513.02 1275.52,1511.52 1276.32,1510.16 1277.12,1509.99 1277.92,1509.47 1278.72,1508.21 1279.52,1506.59 1280.32,1505.36 1281.12,1505.12 1281.92,1504.97 1282.71,1504.65 1283.51,1503.62 1284.31,1502.84 1285.11,1502.21 1285.91,1500.36 1286.71,1498.4 1287.51,1497.35 1288.31,1496.36 1289.1,1494.57 1289.9,1493.56 1290.7,1491.2 1291.5,1489.2 1292.3,1487.86 1292.3,1550.29 1291.5,1550.51 1290.7,1551.06 1289.9,1551.48 1289.1,1552.13 1288.31,1552.91 1287.51,1553.66 1286.71,1554.24 1285.91,1555.05 1285.11,1555.52 1284.31,1555.82 1283.51,1556.87 1282.71,1557.07 1281.92,1556.07 1281.12,1558.39 1280.32,1560.01 1279.52,1560.02 1278.72,1560.22 1277.92,1560.62 1277.12,1560.94 1276.32,1561.97 1275.52,1562.91 1274.73,1563.67 1273.93,1563.78 1273.13,1564.23 1272.33,1564.94 1271.53,1565.7 1270.73,1565.91 1269.93,1565.96 1269.13,1566.62 1268.34,1567.76 1267.54,1569.15 1266.74,1568.65 1265.94,1568.51 1265.14,1569.57 1264.34,1570.93 1263.54,1572.28 1262.74,1571.76 1261.95,1570.84 1261.15,1571.85 1260.35,1572.12 1259.55,1572.01 1258.75,1572 1257.95,1571.08 1257.15,1571.43 1256.35,1571.2 1255.55,1569.7 1254.76,1570.15 1253.96,1570.19 1253.16,1570.86 1252.36,1571.71 1251.56,1571.46 1250.76,1571.77 1249.96,1572.62 1249.16,1572.5 1248.37,1573.03 1247.57,1573 1246.77,1573.17 1245.97,1573.94 1245.17,1573.61 1244.37,1573.28 1243.57,1574.8 1242.77,1575.15 1241.97,1574.44 1241.18,1575.66 1240.38,1576.28 1239.58,1576.88 1238.78,1577.31 1237.98,1577.38 1237.18,1578.35 1236.38,1578.87 1235.58,1578.76 1234.79,1579.21 1233.99,1580.17 1233.19,1579.34 1232.39,1577.52 1231.59,1579.85 1230.79,1581.7 1229.99,1582.54 1229.19,1582.14 1228.4,1583 1227.6,1582.83 1226.8,1582.29 1226,1582.11 1225.2,1582.22 1224.4,1583.61 1223.6,1584.23 1222.8,1584.19 1222,1584.06 1221.21,1583.3 1220.41,1583.63 1219.61,1584.37 1218.81,1584.37 1218.01,1584.54 1217.21,1584.72 1216.41,1585.18 1215.61,1585.58 1214.82,1585.66 1214.02,1584.9 1213.22,1583.89 1212.42,1585.83 1211.62,1586.82 1210.82,1588.58 1210.02,1587.98 1209.22,1587.45 1208.42,1587.16 1207.63,1587.31 1206.83,1587.5 1206.03,1587.9 1205.23,1588.42 1204.43,1588.58 1203.63,1589.01 1202.83,1588.97 1202.03,1589.65 1201.24,1591.63 1200.44,1590.29 1199.64,1589.53 1198.84,1589.85 1198.04,1590.2 1197.24,1590.33 1196.44,1590.67 1195.64,1590.99 1194.85,1590.98 1194.05,1591.18 1193.25,1591.13 1192.45,1590.84 1191.65,1591.69 1190.85,1592.21 1190.05,1592.54 1189.25,1592.34 1188.45,1592.44 1187.66,1593.32 1186.86,1593.07 1186.06,1592.71 1185.26,1593.14 1184.46,1593.86 1183.66,1594.37 1182.86,1593.92 1182.06,1593.11 1181.27,1593.18 1180.47,1593.38 1179.67,1594.87 1178.87,1595.82 1178.07,1595.55 1177.27,1595.58 1176.47,1595.3 1175.67,1594.87 1174.88,1595.62 1174.08,1595.94 1173.28,1595.63 1172.48,1595.13 1171.68,1595.26 1170.88,1595.48 1170.08,1594.88 1169.28,1591.98 1168.48,1593.99 1167.69,1595.03 1166.89,1594.84 1166.09,1594.99 1165.29,1595.26 1164.49,1595.21 1163.69,1595.25 1162.89,1594.55 1162.09,1593.46 1161.3,1594.77 1160.5,1595.62 1159.7,1595.86 1158.9,1595.82 1158.1,1595.9" fill="#000" fill-opacity="0.5"/>
<polygon points="1158.1,1434.93 1158.9,1432.72 1159.7,1433.04 1160.5,1432.56 1161.3,1431.77 1162.09,1431.4 1162.89,1431.42 1163.69,1432.88 1164.49,1431.54 1165.29,1430.25 1166.09,1430.03 1166.89,1429.58 1167.69,1429.08 1168.48,1428.58 1169.28,1429.6 1170.08,1429.72 1170.88,1428.58 1171.68,1427.52 1172.48,1427.18 1173.28,1427.58 1174.08,1427.01 1174.88,1427.09 1175.67,1426.36 1176.47,1425.08 1177.27,1424.85 1178.07,1424.87 1178.87,1426.34 1179.67,1426.47 1180.47,1426.6 1181.27,1428.26 1182.06,1428.04 1182.86,1429.01 1183.66,1432.37 1184.46,1429.01 1185.26,1427.33 1186.06,1427.97 1186.86,1426.76 1187.66,1425.65 1188.45,1426.62 1189.25,1428.24 1190.05,1426.69 1190.85,1425.89 1191.65,1425.05 1192.45,1423.92 1193.25,1425.76 1194.05,1426.51 1194.85,1425.52 1195.64,1424.17 1196.44,1423.09 1197.24,1424.31 1198.04,1423.97 1198.84,1424.45 1199.64,1425.55 1200.44,1423.43 1201.24,1425.49 1202.03,1427.64 1202.83,1425.59 1203.63,1425.99 1204.43,1426.51 1205.23,1427.33 1206.03,1427.6 1206.83,1427.07 1207.63,1427.64 1208.42,1426.75 1209.22,1426.21 1210.02,1428.42 1210.82,1429.19 1211.62,1428.43 1212.42,1428.68 1213.22,1430.9 1214.02,1430.05 1214.82,1429.1 1215.61,1430.87 1216.41,1431.88 1217.21,1432.38 1218.01,1434.23 1218.81,1434.6 1219.61,1434.86 1220.41,1435.4 1221.21,1431.54 1222,1433.97 1222.8,1437.37 1223.6,1437.44 1224.4,1438.34 1225.2,1439.11 1226,1438.5 1226.8,1438.99 1227.6,1438.5 1228.4,1439.28 1229.19,1441.99 1229.99,1442.64 1230.79,1442.89 1231.59,1443.32 1232.39,1443.44 1233.19,1443.76 1233.99,1442.99 1234.79,1441.57 1235.58,1441.41 1236.38,1442.15 1237.18,1440.96 1237.98,1439.75 1238.78,1438.16 1239.58,1435.36 1240.38,1437.33 1241.18,1439.28 1241.97,1438.21 1242.77,1439.15 1243.57,1439.54 1244.37,1439.38 1245.17,1438.81 1245.97,1437.14 1246.77,1435.75 1247.57,1436.01 1248.37,1435.12 1249.16,1435.34 1249.96,1435.84 1250.76,1435.03 1251.56,1434.88 1252.36,1435.67 1253.16,1435.59 1253.96,1434.58 1254.76,1435.93 1255.55,1436.31 1256.35,1436.54 1257.15,1437.37 1257.95,1437.41 1258.75,1438.49 1259.55,1438.58 1260.35,1439 1261.15,1441.85 1261.95,1439.11 1262.74,1438.27 1263.54,1438.37 1264.34,1436.71 1265.14,1436.75 1265.94,1435.62 1266.74,1434.08 1267.54,1434.54 1268.34,1433.76 1269.13,1432.8 1269.93,1431.74 1270.73,1430.57 1271.53,1430.98 1272.33,1429.75 1273.13,1428.21 1273.93,1428.39 1274.73,1428.45 1275.52,1428.57 1276.32,1428.52 1277.12,1426.98 1277.92,1427.31 1278.72,1429.11 1279.52,1428.83 1280.32,1427.59 1281.12,1427.28 1281.92,1427.2 1282.71,1426.03 1283.51,1425.94 1284.31,1426.2 1285.11,1426.06 1285.91,1425.21 1286.71,1422.8 1287.51,1423.12 1288.31,1423.17 1289.1,1422.44 1289.9,1420.82 1290.7,1419.78 1291.5,1418.88 1292.3,1418.54 1292.3,1504.62 1291.5,1503.87 1290.7,1503.55 1289.9,1503.81 1289.1,1502.8 1288.31,1502.56 1287.51,1501.5 1286.71,1500.96 1285.91,1500.46 1285.11,1500.8 1284.31,1502.34 1283.51,1503.16 1282.71,1502.84 1281.92,1501.51 1281.12,1501.52 1280.32,1502.86 1279.52,1503.58 1278.72,1504.28 1277.92,1504.11 1277.12,1503.83 1276.32,1505.13 1275.52,1505.47 1274.73,1504.75 1273.93,1503.2 1273.13,1501.67 1272.33,1505.17 1271.53,1507.65 1270.73,1506.9 1269.93,1507.52 1269.13,1508.81 1268.34,1509.14 1267.54,1512.02 1266.74,1510.96 1265.94,1510.97 1265.14,1512.63 1264.34,1511.31 1263.54,1510.95 1262.74,1512.48 1261.95,1511.67 1261.15,1511.49 1260.35,1511.99 1259.55,1510.58 1258.75,1510.21 1257.95,1511.56 1257.15,1511.67 1256.35,1511.53 1255.55,1511.45 1254.76,1510.44 1253.96,1510.24 1253.16,1511.14 1252.36,1511.52 1251.56,1510.05 1250.76,1510.39 1249.96,1510.12 1249.16,1508.94 1248.37,1508.12 1247.57,1509.52 1246.77,1511.36 1245.97,1510.2 1245.17,1509.85 1244.37,1509.61 1243.57,1508.64 1242.77,1508.89 1241.97,1508.89 1241.18,1509.03 1240.38,1509 1239.58,1508.07 1238.78,1508.49 1237.98,1509.75 1237.18,1509.44 1236.38,1511.77 1235.58,1509.47 1234.79,1507.37 1233.99,1508.51 1233.19,1507.6 1232.39,1507.29 1231.59,1509.85 1230.79,1508.8 1229.99,1506.22 1229.19,1507.04 1228.4,1508 1227.6,1506.18 1226.8,1507 1226,1508.4 1225.2,1509.41 1224.4,1510.02 1223.6,1510.48 1222.8,1511.61 1222,1511.04 1221.21,1508.86 1220.41,1507.82 1219.61,1510.36 1218.81,1510.6 1218.01,1511.56 1217.21,1512.21 1216.41,1512.26 1215.61,1512.72 1214.82,1512.64 1214.02,1512.22 1213.22,1512.66 1212.42,1513.42 1211.62,1513.98 1210.82,1513.36 1210.02,1514.56 1209.22,1514.9 1208.42,1515.43 1207.63,1517.92 1206.83,1519.65 1206.03,1515.91 1205.23,1513.72 1204.43,1515.75 1203.63,1515.91 1202.83,1514.49 1202.03,1514.39 1201.24,1515.93 1200.44,1517.59 1199.64,1518.47 1198.84,1516.69 1198.04,1516.24 1197.24,1516.54 1196.44,1516.39 1195.64,1515.57 1194.85,1513.11 1194.05,1513.62 1193.25,1516.04 1192.45,1515.43 1191.65,1514.74 1190.85,1514.56 1190.05,1514.35 1189.25,1516.51 1188.45,1517.58 1187.66,1517.64 1186.86,1516.59 1186.06,1516.37 1185.26,1516.41 1184.46,1516.58 1183.66,1516.26 1182.86,1516.54 1182.06,1516.97 1181.27,1516.18 1180.47,1516.23 1179.67,1514.83 1178.87,1516.03 1178.07,1516.91 1177.27,1516.49 1176.47,1517.11 1175.67,1516.96 1174.88,1516.01 1174.08,1517.97 1173.28,1519.29 1172.48,1517.7 1171.68,1517.62 1170.88,1517.4 1170.08,1518.03 1169.28,1518.49 1168.48,1517.77 1167.69,1516.86 1166.89,1518.2 1166.09,1519.73 1165.29,1519.22 1164.49,1518.79 1163.69,1519.39 1162.89,1521.37 1162.09,1522.68 1161.3,1520.78 1160.5,1521.14 1159.7,1521.67 1158.9,1520.7 1158.1,1520.83" fill="#20b2aa" fill-opacity="0.5"/>
<polyline points="1158.1,1582.9 1161.08,1582.39 1164.06,1581.85 1167.05,1581.29 1170.03,1580.69 1173.01,1580.07 1175.99,1579.42 1178.98,1578.75 1181.96,1578.06 1184.94,1577.35 1187.92,1576.62 1190.9,1575.87 1193.89,1575.11 1196.87,1574.33 1199.85,1573.53 1202.83,1572.69 1205.82,1571.83 1208.8,1570.93 1211.78,1570 1214.76,1569.03 1217.74,1568.02 1220.73,1566.98 1223.71,1565.9 1226.69,1564.78 1229.67,1563.6 1232.66,1562.36 1235.64,1561.04 1238.62,1559.67 1241.6,1558.25 1244.58,1556.78 1247.57,1555.27 1250.55,1553.73 1253.53,1552.16 1256.51,1550.57 1259.5,1548.96 1262.48,1547.31 1265.46,1545.6 1268.44,1543.82 1271.42,1541.95 1274.41,1539.98 1277.39,1537.94 1280.37,1535.86 1283.35,1533.56 1286.34,1530.83 1289.32,1527.22 1292.3,1522.3" fill="none" stroke="#000" stroke-width="3.5" stroke-linecap="square" stroke-linejoin="round"/>
<polyline points="1158.1,1483 1161.08,1482.14 1164.06,1481.32 1167.05,1480.55 1170.03,1479.83 1173.01,1479.16 1175.99,1478.42 1178.98,1477.7 1181.96,1477.17 1184.94,1477 1187.92,1477.1 1190.9,1477.27 1193.89,1477.44 1196.87,1477.5 1199.85,1477.25 1202.83,1476.77 1205.82,1476.3 1208.8,1476.1 1211.78,1476.19 1214.76,1476.41 1217.74,1476.69 1220.73,1476.98 1223.71,1477.2 1226.69,1477.3 1229.67,1477.09 1232.66,1476.56 1235.64,1476 1238.62,1475.7 1241.6,1475.75 1244.58,1475.88 1247.57,1476.02 1250.55,1476.1 1253.53,1476 1256.51,1475.66 1259.5,1475.11 1262.48,1474.43 1265.46,1473.68 1268.44,1472.82 1271.42,1471.56 1274.41,1470.14 1277.39,1468.85 1280.37,1467.57 1283.35,1466.23 1286.34,1464.78 1289.32,1463.2 1292.3,1461.5" fill="none" stroke="#20b2aa" stroke-width="3.5" stroke-linecap="square" stroke-linejoin="round"/>
<rect x="1024.1" y="1316.8" width="691.1" height="343" fill="none" stroke="#000" stroke-width="1.75"/>
<path d="M1024.1 1659.8v6.2M1177.68 1659.8v6.2M1331.26 1659.8v6.2M1484.83 1659.8v6.2M1638.41 1659.8v6.2M1024.1 1621.69h-6.2M1024.1 1545.47h-6.2M1024.1 1469.24h-6.2M1024.1 1393.02h-6.2M1024.1 1316.8h-6.2" stroke="#000" stroke-width="1.75" fill="none"/>
<g font-size="33.5" stroke="#000">
<text x="1024.1" y="1696.9" text-anchor="middle">0</text>
<text x="1177.68" y="1696.9" text-anchor="middle">200</text>
<text x="1331.26" y="1696.9" text-anchor="middle">400</text>
<text x="1484.83" y="1696.9" text-anchor="middle">600</text>
<text x="1638.41" y="1696.9" text-anchor="middle">800</text>
<text x="1012.9" y="1634.49" text-anchor="end">0.2</text>
<text x="1012.9" y="1558.27" text-anchor="end">0.4</text>
<text x="1012.9" y="1482.04" text-anchor="end">0.6</text>
<text x="1012.9" y="1405.82" text-anchor="end">0.8</text>
<text x="1012.9" y="1329.6" text-anchor="end">1.0</text>
</g>
<text x="1369.35" y="1734.1" font-size="33.5" text-anchor="middle" font-style="italic" stroke="#000">t</text>
<text x="946.5" y="1488.3" font-size="33.5" text-anchor="middle" transform="rotate(-90 946.5 1488.3)" stroke="#000">Variance</text>
<text x="1024.1" y="1311.6" font-size="30.1" stroke="#000">1e−4</text>
<text x="912.6" y="1310.4" font-size="33.5" stroke="#000">(<tspan font-style="italic">f</tspan>)</text>
<text stroke="#000"><tspan x="1047.1" y="1346.7" font-size="25" font-style="italic">τ</tspan><tspan x="1062.15" y="1350.6" font-size="17.5" font-style="italic">X</tspan><tspan x="1074" y="1353.5" font-size="12.25">1</tspan><tspan x="1082.6" y="1346.7" font-size="25"> = 0.817</tspan></text>
<text fill="#20b2aa" stroke="#20b2aa"><tspan x="1047.1" y="1379.2" font-size="25" font-style="italic">τ</tspan><tspan x="1062.15" y="1383.1" font-size="17.5" font-style="italic">X</tspan><tspan x="1074" y="1386" font-size="12.25">2</tspan><tspan x="1082.6" y="1379.2" font-size="25"> = 0.167</tspan></text>
<text x="1047.1" y="1411.7" font-size="25" fill="#ff6666" stroke="#ff6666">pre-tipping time span</text>
<text fill="#808080" stroke="#808080"><tspan x="1331.3" y="1609.2" font-size="25" font-style="italic">c</tspan><tspan x="1345.1" y="1613" font-size="17.5">1</tspan><tspan x="1356.5" y="1615.4" font-size="12.25" font-style="italic">crit</tspan><tspan x="1377.25" y="1609.2" font-size="25"> reached</tspan></text>
<line x1="1044.5" y1="1623.8" x2="1098.2" y2="1623.8" stroke="#000" stroke-width="3.5"/>
<text stroke="#000"><tspan x="1116.1" y="1632.5" font-size="25" font-style="italic">X</tspan><tspan x="1133.7" y="1636.6" font-size="17.5">1</tspan></text>
<line x1="1193.9" y1="1623.8" x2="1247.4" y2="1623.8" stroke="#20b2aa" stroke-width="3.5"/>
<text stroke="#000"><tspan x="1265.2" y="1632.5" font-size="25" font-style="italic">X</tspan><tspan x="1282.8" y="1636.6" font-size="17.5">2</tspan></text>
</svg></body></html>
